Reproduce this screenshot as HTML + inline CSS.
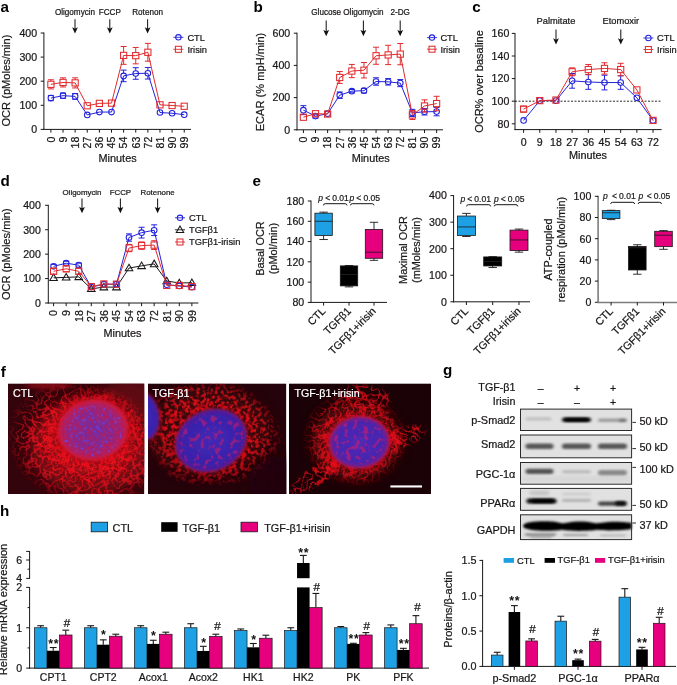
<!DOCTYPE html>
<html lang="en">
<head>
<meta charset="utf-8">
<title>Figure</title>
<style>html,body{margin:0;padding:0;background:#fff;}body{width:677px;height:685px;overflow:hidden;font-family:"Liberation Sans",sans-serif;}svg{display:block;}</style>
</head>
<body>
<svg width="677" height="685" viewBox="0 0 677 685" font-family="'Liberation Sans', sans-serif">
<defs>
<radialGradient id="maskA"><stop offset="0" stop-color="#fff" stop-opacity="1"/><stop offset="0.55" stop-color="#fff" stop-opacity="1"/><stop offset="0.8" stop-color="#fff" stop-opacity="0.7"/><stop offset="1" stop-color="#fff" stop-opacity="0"/></radialGradient>
<radialGradient id="maskB"><stop offset="0" stop-color="#fff" stop-opacity="1"/><stop offset="0.7" stop-color="#fff" stop-opacity="1"/><stop offset="1" stop-color="#fff" stop-opacity="0"/></radialGradient>
<radialGradient id="nucA"><stop offset="0" stop-color="#702ca4"/><stop offset="0.6" stop-color="#862890"/><stop offset="0.88" stop-color="#b41e5c"/><stop offset="1" stop-color="#d41832"/></radialGradient>
<radialGradient id="nucB"><stop offset="0" stop-color="#4429b4"/><stop offset="0.75" stop-color="#3822ac"/><stop offset="0.93" stop-color="#4c1c9a"/><stop offset="1" stop-color="#861860"/></radialGradient>
<radialGradient id="nucC"><stop offset="0" stop-color="#522ab4"/><stop offset="0.75" stop-color="#4425b0"/><stop offset="0.92" stop-color="#6a1e94"/><stop offset="1" stop-color="#b81a48"/></radialGradient>
<filter id="filA" x="0" y="0" width="1" height="1" color-interpolation-filters="sRGB"><feTurbulence type="turbulence" baseFrequency="0.16" numOctaves="1" seed="11" result="n"/><feColorMatrix in="n" type="matrix" values="0 0 0 0 0.94  0 0 0 0 0.07  0 0 0 0 0.12  -15 0 0 0 1.7" result="c"/><feComposite in="c" in2="SourceGraphic" operator="in"/></filter>
<filter id="filA2" x="0" y="0" width="1" height="1" color-interpolation-filters="sRGB"><feTurbulence type="turbulence" baseFrequency="0.24" numOctaves="1" seed="41" result="n"/><feColorMatrix in="n" type="matrix" values="0 0 0 0 0.92  0 0 0 0 0.06  0 0 0 0 0.1  0 -12 0 0 1.5" result="c"/><feComposite in="c" in2="SourceGraphic" operator="in"/></filter>
<filter id="filB" x="0" y="0" width="1" height="1" color-interpolation-filters="sRGB"><feTurbulence type="fractalNoise" baseFrequency="0.28" numOctaves="2" seed="5" result="n"/><feColorMatrix in="n" type="matrix" values="0 0 0 0 0.93  0 0 0 0 0.06  0 0 0 0 0.1  11 0 0 0 -5.5" result="c"/><feComposite in="c" in2="SourceGraphic" operator="in"/></filter>
<filter id="filB2" x="0" y="0" width="1" height="1" color-interpolation-filters="sRGB"><feTurbulence type="fractalNoise" baseFrequency="0.22" numOctaves="2" seed="77" result="n"/><feColorMatrix in="n" type="matrix" values="0 0 0 0 0.85  0 0 0 0 0.05  0 0 0 0 0.09  0 11 0 0 -5.8" result="c"/><feComposite in="c" in2="SourceGraphic" operator="in"/></filter>
<filter id="filC" x="0" y="0" width="1" height="1" color-interpolation-filters="sRGB"><feTurbulence type="turbulence" baseFrequency="0.17" numOctaves="1" seed="23" result="n"/><feColorMatrix in="n" type="matrix" values="0 0 0 0 0.93  0 0 0 0 0.06  0 0 0 0 0.1  -14 0 0 0 1.7" result="c"/><feComposite in="c" in2="SourceGraphic" operator="in"/></filter>
<filter id="filC2" x="0" y="0" width="1" height="1" color-interpolation-filters="sRGB"><feTurbulence type="turbulence" baseFrequency="0.27" numOctaves="1" seed="57" result="n"/><feColorMatrix in="n" type="matrix" values="0 0 0 0 0.9  0 0 0 0 0.05  0 0 0 0 0.1  0 -13 0 0 1.5" result="c"/><feComposite in="c" in2="SourceGraphic" operator="in"/></filter>
<filter id="spkB" x="0" y="0" width="1" height="1" color-interpolation-filters="sRGB"><feTurbulence type="fractalNoise" baseFrequency="0.33" numOctaves="2" seed="3" result="n"/><feColorMatrix in="n" type="matrix" values="0 0 0 0 0.36  0 0 0 0 0.3  0 0 0 0 1.0  9 0 0 0 -5.4" result="c"/><feComposite in="c" in2="SourceGraphic" operator="in"/></filter>
<filter id="spkR" x="0" y="0" width="1" height="1" color-interpolation-filters="sRGB"><feTurbulence type="fractalNoise" baseFrequency="0.2" numOctaves="2" seed="19" result="n"/><feColorMatrix in="n" type="matrix" values="0 0 0 0 0.85  0 0 0 0 0.1  0 0 0 0 0.4  0 9 0 0 -5.0" result="c"/><feComposite in="c" in2="SourceGraphic" operator="in"/></filter>
<filter id="b1" x="-0.2" y="-0.2" width="1.4" height="1.4"><feGaussianBlur stdDeviation="0.9"/></filter>
<filter id="b2" x="-0.3" y="-0.3" width="1.6" height="1.6"><feGaussianBlur stdDeviation="2.2"/></filter>
<filter id="b4" x="-0.4" y="-0.4" width="1.8" height="1.8"><feGaussianBlur stdDeviation="4"/></filter>
<filter id="b5" x="-0.5" y="-0.5" width="2" height="2"><feGaussianBlur stdDeviation="7"/></filter>
<filter id="bb" x="-0.2" y="-0.8" width="1.4" height="2.6"><feGaussianBlur stdDeviation="1.5 1.0"/></filter>
<filter id="bf" x="-0.2" y="-0.8" width="1.4" height="2.6"><feGaussianBlur stdDeviation="1.6 1.1"/></filter>
<clipPath id="cf0"><rect x="8" y="383.4" width="136.4" height="110.6"/></clipPath>
<clipPath id="cf1"><rect x="148" y="383.4" width="138.4" height="110.6"/></clipPath>
<clipPath id="cf2"><rect x="289" y="383.4" width="142" height="110.6"/></clipPath>
</defs>
<rect x="0" y="0" width="677" height="685" fill="#fff"/>
<text x="0.4" y="11.6" font-size="15.2" font-weight="bold" fill="#000">a</text>
<line x1="43.9" y1="32.5" x2="43.9" y2="129.9" stroke="#1a1718" stroke-width="1"/>
<line x1="40.7" y1="129.4" x2="43.9" y2="129.4" stroke="#1a1718" stroke-width="1"/>
<text x="37.1" y="133.22" font-size="10.6" text-anchor="end" fill="#1a1718" stroke="#1a1718" stroke-width="0.22">0</text>
<line x1="40.7" y1="105.3" x2="43.9" y2="105.3" stroke="#1a1718" stroke-width="1"/>
<text x="37.1" y="109.12" font-size="10.6" text-anchor="end" fill="#1a1718" stroke="#1a1718" stroke-width="0.22">100</text>
<line x1="40.7" y1="81.2" x2="43.9" y2="81.2" stroke="#1a1718" stroke-width="1"/>
<text x="37.1" y="85.02" font-size="10.6" text-anchor="end" fill="#1a1718" stroke="#1a1718" stroke-width="0.22">200</text>
<line x1="40.7" y1="57.1" x2="43.9" y2="57.1" stroke="#1a1718" stroke-width="1"/>
<text x="37.1" y="60.92" font-size="10.6" text-anchor="end" fill="#1a1718" stroke="#1a1718" stroke-width="0.22">300</text>
<line x1="40.7" y1="33" x2="43.9" y2="33" stroke="#1a1718" stroke-width="1"/>
<text x="37.1" y="36.82" font-size="10.6" text-anchor="end" fill="#1a1718" stroke="#1a1718" stroke-width="0.22">400</text>
<line x1="43.4" y1="129.4" x2="191" y2="129.4" stroke="#1a1718" stroke-width="1"/>
<line x1="50.9" y1="129.4" x2="50.9" y2="132.6" stroke="#1a1718" stroke-width="1"/>
<text x="54.72" y="136.6" font-size="10.6" text-anchor="end" transform="rotate(-90 54.72 136.6)" fill="#1a1718" stroke="#1a1718" stroke-width="0.22">0</text>
<line x1="63.02" y1="129.4" x2="63.02" y2="132.6" stroke="#1a1718" stroke-width="1"/>
<text x="66.84" y="136.6" font-size="10.6" text-anchor="end" transform="rotate(-90 66.84 136.6)" fill="#1a1718" stroke="#1a1718" stroke-width="0.22">9</text>
<line x1="75.14" y1="129.4" x2="75.14" y2="132.6" stroke="#1a1718" stroke-width="1"/>
<text x="78.96" y="136.6" font-size="10.6" text-anchor="end" transform="rotate(-90 78.96 136.6)" fill="#1a1718" stroke="#1a1718" stroke-width="0.22">18</text>
<line x1="87.26" y1="129.4" x2="87.26" y2="132.6" stroke="#1a1718" stroke-width="1"/>
<text x="91.08" y="136.6" font-size="10.6" text-anchor="end" transform="rotate(-90 91.08 136.6)" fill="#1a1718" stroke="#1a1718" stroke-width="0.22">27</text>
<line x1="99.38" y1="129.4" x2="99.38" y2="132.6" stroke="#1a1718" stroke-width="1"/>
<text x="103.2" y="136.6" font-size="10.6" text-anchor="end" transform="rotate(-90 103.2 136.6)" fill="#1a1718" stroke="#1a1718" stroke-width="0.22">36</text>
<line x1="111.5" y1="129.4" x2="111.5" y2="132.6" stroke="#1a1718" stroke-width="1"/>
<text x="115.32" y="136.6" font-size="10.6" text-anchor="end" transform="rotate(-90 115.32 136.6)" fill="#1a1718" stroke="#1a1718" stroke-width="0.22">45</text>
<line x1="123.62" y1="129.4" x2="123.62" y2="132.6" stroke="#1a1718" stroke-width="1"/>
<text x="127.44" y="136.6" font-size="10.6" text-anchor="end" transform="rotate(-90 127.44 136.6)" fill="#1a1718" stroke="#1a1718" stroke-width="0.22">54</text>
<line x1="135.74" y1="129.4" x2="135.74" y2="132.6" stroke="#1a1718" stroke-width="1"/>
<text x="139.56" y="136.6" font-size="10.6" text-anchor="end" transform="rotate(-90 139.56 136.6)" fill="#1a1718" stroke="#1a1718" stroke-width="0.22">63</text>
<line x1="147.86" y1="129.4" x2="147.86" y2="132.6" stroke="#1a1718" stroke-width="1"/>
<text x="151.68" y="136.6" font-size="10.6" text-anchor="end" transform="rotate(-90 151.68 136.6)" fill="#1a1718" stroke="#1a1718" stroke-width="0.22">72</text>
<line x1="159.98" y1="129.4" x2="159.98" y2="132.6" stroke="#1a1718" stroke-width="1"/>
<text x="163.8" y="136.6" font-size="10.6" text-anchor="end" transform="rotate(-90 163.8 136.6)" fill="#1a1718" stroke="#1a1718" stroke-width="0.22">81</text>
<line x1="172.1" y1="129.4" x2="172.1" y2="132.6" stroke="#1a1718" stroke-width="1"/>
<text x="175.92" y="136.6" font-size="10.6" text-anchor="end" transform="rotate(-90 175.92 136.6)" fill="#1a1718" stroke="#1a1718" stroke-width="0.22">90</text>
<line x1="184.22" y1="129.4" x2="184.22" y2="132.6" stroke="#1a1718" stroke-width="1"/>
<text x="188.04" y="136.6" font-size="10.6" text-anchor="end" transform="rotate(-90 188.04 136.6)" fill="#1a1718" stroke="#1a1718" stroke-width="0.22">99</text>
<text x="9.7" y="80.6" font-size="11.1" text-anchor="middle" transform="rotate(-90 9.7 80.6)" fill="#1a1718" stroke="#1a1718" stroke-width="0.22">OCR (pMoles/min)</text>
<text x="117.6" y="161.8" font-size="10.9" text-anchor="middle" fill="#1a1718" stroke="#1a1718" stroke-width="0.22">Minutes</text>
<text x="75" y="15.2" font-size="8.15" text-anchor="middle" fill="#1a1718" stroke="#1a1718" stroke-width="0.22">Oligomycin</text>
<line x1="75" y1="19.2" x2="75" y2="30.1" stroke="#1a1718" stroke-width="1.05"/>
<path d="M75 33.6 L72.1 27.3 L75 28.7 L77.9 27.3 Z" fill="#111"/>
<text x="109.8" y="15.2" font-size="8.15" text-anchor="middle" fill="#1a1718" stroke="#1a1718" stroke-width="0.22">FCCP</text>
<line x1="109.8" y1="19.2" x2="109.8" y2="30.1" stroke="#1a1718" stroke-width="1.05"/>
<path d="M109.8 33.6 L106.9 27.3 L109.8 28.7 L112.7 27.3 Z" fill="#111"/>
<text x="147.6" y="15.2" font-size="8.15" text-anchor="middle" fill="#1a1718" stroke="#1a1718" stroke-width="0.22">Rotenon</text>
<line x1="147.6" y1="19.2" x2="147.6" y2="30.1" stroke="#1a1718" stroke-width="1.05"/>
<path d="M147.6 33.6 L144.7 27.3 L147.6 28.7 L150.5 27.3 Z" fill="#111"/>
<line x1="47.9" y1="95.42" x2="53.9" y2="95.42" stroke="#2222dc" stroke-width="1"/>
<line x1="47.9" y1="100.72" x2="53.9" y2="100.72" stroke="#2222dc" stroke-width="1"/>
<line x1="60.02" y1="93.01" x2="66.02" y2="93.01" stroke="#2222dc" stroke-width="1"/>
<line x1="60.02" y1="98.31" x2="66.02" y2="98.31" stroke="#2222dc" stroke-width="1"/>
<line x1="75.14" y1="93.49" x2="75.14" y2="93.58" stroke="#2222dc" stroke-width="1"/>
<line x1="75.14" y1="99.18" x2="75.14" y2="99.28" stroke="#2222dc" stroke-width="1"/>
<line x1="72.14" y1="93.49" x2="78.14" y2="93.49" stroke="#2222dc" stroke-width="1"/>
<line x1="72.14" y1="99.28" x2="78.14" y2="99.28" stroke="#2222dc" stroke-width="1"/>
<line x1="123.62" y1="70.11" x2="123.62" y2="73.1" stroke="#2222dc" stroke-width="1"/>
<line x1="123.62" y1="78.7" x2="123.62" y2="81.68" stroke="#2222dc" stroke-width="1"/>
<line x1="120.62" y1="70.11" x2="126.62" y2="70.11" stroke="#2222dc" stroke-width="1"/>
<line x1="120.62" y1="81.68" x2="126.62" y2="81.68" stroke="#2222dc" stroke-width="1"/>
<line x1="135.74" y1="67.7" x2="135.74" y2="70.69" stroke="#2222dc" stroke-width="1"/>
<line x1="135.74" y1="76.29" x2="135.74" y2="79.27" stroke="#2222dc" stroke-width="1"/>
<line x1="132.74" y1="67.7" x2="138.74" y2="67.7" stroke="#2222dc" stroke-width="1"/>
<line x1="132.74" y1="79.27" x2="138.74" y2="79.27" stroke="#2222dc" stroke-width="1"/>
<line x1="147.86" y1="67.46" x2="147.86" y2="70.45" stroke="#2222dc" stroke-width="1"/>
<line x1="147.86" y1="76.05" x2="147.86" y2="79.03" stroke="#2222dc" stroke-width="1"/>
<line x1="144.86" y1="67.46" x2="150.86" y2="67.46" stroke="#2222dc" stroke-width="1"/>
<line x1="144.86" y1="79.03" x2="150.86" y2="79.03" stroke="#2222dc" stroke-width="1"/>
<circle cx="50.9" cy="98.07" r="2.8" fill="none" stroke="#2222dc" stroke-width="1.05"/>
<circle cx="63.02" cy="95.66" r="2.8" fill="none" stroke="#2222dc" stroke-width="1.05"/>
<circle cx="75.14" cy="96.38" r="2.8" fill="none" stroke="#2222dc" stroke-width="1.05"/>
<circle cx="87.26" cy="114.94" r="2.8" fill="none" stroke="#2222dc" stroke-width="1.05"/>
<circle cx="99.38" cy="112.05" r="2.8" fill="none" stroke="#2222dc" stroke-width="1.05"/>
<circle cx="111.5" cy="112.05" r="2.8" fill="none" stroke="#2222dc" stroke-width="1.05"/>
<circle cx="123.62" cy="75.9" r="2.8" fill="none" stroke="#2222dc" stroke-width="1.05"/>
<circle cx="135.74" cy="73.49" r="2.8" fill="none" stroke="#2222dc" stroke-width="1.05"/>
<circle cx="147.86" cy="73.25" r="2.8" fill="none" stroke="#2222dc" stroke-width="1.05"/>
<circle cx="159.98" cy="112.53" r="2.8" fill="none" stroke="#2222dc" stroke-width="1.05"/>
<circle cx="172.1" cy="113.25" r="2.8" fill="none" stroke="#2222dc" stroke-width="1.05"/>
<circle cx="184.22" cy="114.7" r="2.8" fill="none" stroke="#2222dc" stroke-width="1.05"/>
<polyline points="50.9,98.07 63.02,95.66 75.14,96.38 87.26,114.94 99.38,112.05 111.5,112.05 123.62,75.9 135.74,73.49 147.86,73.25 159.98,112.53 172.1,113.25 184.22,114.7" fill="none" stroke="#2222dc" stroke-width="1"/>
<line x1="50.9" y1="79.75" x2="50.9" y2="81.23" stroke="#e22b2e" stroke-width="1"/>
<line x1="50.9" y1="87.43" x2="50.9" y2="88.91" stroke="#e22b2e" stroke-width="1"/>
<line x1="47.9" y1="79.75" x2="53.9" y2="79.75" stroke="#e22b2e" stroke-width="1"/>
<line x1="47.9" y1="88.91" x2="53.9" y2="88.91" stroke="#e22b2e" stroke-width="1"/>
<line x1="63.02" y1="77.83" x2="63.02" y2="79.31" stroke="#e22b2e" stroke-width="1"/>
<line x1="63.02" y1="85.5" x2="63.02" y2="86.98" stroke="#e22b2e" stroke-width="1"/>
<line x1="60.02" y1="77.83" x2="66.02" y2="77.83" stroke="#e22b2e" stroke-width="1"/>
<line x1="60.02" y1="86.98" x2="66.02" y2="86.98" stroke="#e22b2e" stroke-width="1"/>
<line x1="75.14" y1="77.83" x2="75.14" y2="79.79" stroke="#e22b2e" stroke-width="1"/>
<line x1="75.14" y1="85.99" x2="75.14" y2="87.95" stroke="#e22b2e" stroke-width="1"/>
<line x1="72.14" y1="77.83" x2="78.14" y2="77.83" stroke="#e22b2e" stroke-width="1"/>
<line x1="72.14" y1="87.95" x2="78.14" y2="87.95" stroke="#e22b2e" stroke-width="1"/>
<line x1="123.62" y1="46.5" x2="123.62" y2="52.31" stroke="#e22b2e" stroke-width="1"/>
<line x1="123.62" y1="58.51" x2="123.62" y2="64.33" stroke="#e22b2e" stroke-width="1"/>
<line x1="120.62" y1="46.5" x2="126.62" y2="46.5" stroke="#e22b2e" stroke-width="1"/>
<line x1="120.62" y1="64.33" x2="126.62" y2="64.33" stroke="#e22b2e" stroke-width="1"/>
<line x1="135.74" y1="47.46" x2="135.74" y2="52.55" stroke="#e22b2e" stroke-width="1"/>
<line x1="135.74" y1="58.75" x2="135.74" y2="63.85" stroke="#e22b2e" stroke-width="1"/>
<line x1="132.74" y1="47.46" x2="138.74" y2="47.46" stroke="#e22b2e" stroke-width="1"/>
<line x1="132.74" y1="63.85" x2="138.74" y2="63.85" stroke="#e22b2e" stroke-width="1"/>
<line x1="147.86" y1="43.36" x2="147.86" y2="49.18" stroke="#e22b2e" stroke-width="1"/>
<line x1="147.86" y1="55.38" x2="147.86" y2="61.2" stroke="#e22b2e" stroke-width="1"/>
<line x1="144.86" y1="43.36" x2="150.86" y2="43.36" stroke="#e22b2e" stroke-width="1"/>
<line x1="144.86" y1="61.2" x2="150.86" y2="61.2" stroke="#e22b2e" stroke-width="1"/>
<rect x="47.8" y="81.23" width="6.2" height="6.2" fill="none" stroke="#e22b2e" stroke-width="1.05"/>
<rect x="59.92" y="79.31" width="6.2" height="6.2" fill="none" stroke="#e22b2e" stroke-width="1.05"/>
<rect x="72.04" y="79.79" width="6.2" height="6.2" fill="none" stroke="#e22b2e" stroke-width="1.05"/>
<rect x="84.16" y="102.68" width="6.2" height="6.2" fill="none" stroke="#e22b2e" stroke-width="1.05"/>
<rect x="96.28" y="100.27" width="6.2" height="6.2" fill="none" stroke="#e22b2e" stroke-width="1.05"/>
<rect x="108.4" y="100.03" width="6.2" height="6.2" fill="none" stroke="#e22b2e" stroke-width="1.05"/>
<rect x="120.52" y="52.31" width="6.2" height="6.2" fill="none" stroke="#e22b2e" stroke-width="1.05"/>
<rect x="132.64" y="52.55" width="6.2" height="6.2" fill="none" stroke="#e22b2e" stroke-width="1.05"/>
<rect x="144.76" y="49.18" width="6.2" height="6.2" fill="none" stroke="#e22b2e" stroke-width="1.05"/>
<rect x="156.88" y="101.72" width="6.2" height="6.2" fill="none" stroke="#e22b2e" stroke-width="1.05"/>
<rect x="169" y="102.44" width="6.2" height="6.2" fill="none" stroke="#e22b2e" stroke-width="1.05"/>
<rect x="181.12" y="103.16" width="6.2" height="6.2" fill="none" stroke="#e22b2e" stroke-width="1.05"/>
<polyline points="50.9,84.33 63.02,82.41 75.14,82.89 87.26,105.78 99.38,103.37 111.5,103.13 123.62,55.41 135.74,55.65 147.86,52.28 159.98,104.82 172.1,105.54 184.22,106.26" fill="none" stroke="#e22b2e" stroke-width="1"/>
<line x1="173.4" y1="37.3" x2="183.4" y2="37.3" stroke="#2222dc" stroke-width="0.9"/>
<circle cx="178.4" cy="37.3" r="2.7" fill="none" stroke="#2222dc" stroke-width="1.05"/>
<text x="187.4" y="40.65" font-size="9.3" fill="#1a1718" stroke="#1a1718" stroke-width="0.22">CTL</text>
<line x1="173.4" y1="49.3" x2="183.4" y2="49.3" stroke="#e22b2e" stroke-width="0.9"/>
<rect x="175.4" y="46.3" width="6" height="6" fill="none" stroke="#e22b2e" stroke-width="1.05"/>
<text x="187.4" y="52.65" font-size="9.3" fill="#1a1718" stroke="#1a1718" stroke-width="0.22">Irisin</text>
<text x="253.4" y="11.6" font-size="15.2" font-weight="bold" fill="#000">b</text>
<line x1="297" y1="32.7" x2="297" y2="130.3" stroke="#1a1718" stroke-width="1"/>
<line x1="293.8" y1="129.8" x2="297" y2="129.8" stroke="#1a1718" stroke-width="1"/>
<text x="290.2" y="133.62" font-size="10.6" text-anchor="end" fill="#1a1718" stroke="#1a1718" stroke-width="0.22">0</text>
<line x1="293.8" y1="97.6" x2="297" y2="97.6" stroke="#1a1718" stroke-width="1"/>
<text x="290.2" y="101.42" font-size="10.6" text-anchor="end" fill="#1a1718" stroke="#1a1718" stroke-width="0.22">200</text>
<line x1="293.8" y1="65.4" x2="297" y2="65.4" stroke="#1a1718" stroke-width="1"/>
<text x="290.2" y="69.22" font-size="10.6" text-anchor="end" fill="#1a1718" stroke="#1a1718" stroke-width="0.22">400</text>
<line x1="293.8" y1="33.2" x2="297" y2="33.2" stroke="#1a1718" stroke-width="1"/>
<text x="290.2" y="37.02" font-size="10.6" text-anchor="end" fill="#1a1718" stroke="#1a1718" stroke-width="0.22">600</text>
<line x1="296.5" y1="129.8" x2="443" y2="129.8" stroke="#1a1718" stroke-width="1"/>
<line x1="303.4" y1="129.8" x2="303.4" y2="133" stroke="#1a1718" stroke-width="1"/>
<text x="307.22" y="136.6" font-size="10.6" text-anchor="end" transform="rotate(-90 307.22 136.6)" fill="#1a1718" stroke="#1a1718" stroke-width="0.22">0</text>
<line x1="315.51" y1="129.8" x2="315.51" y2="133" stroke="#1a1718" stroke-width="1"/>
<text x="319.33" y="136.6" font-size="10.6" text-anchor="end" transform="rotate(-90 319.33 136.6)" fill="#1a1718" stroke="#1a1718" stroke-width="0.22">9</text>
<line x1="327.62" y1="129.8" x2="327.62" y2="133" stroke="#1a1718" stroke-width="1"/>
<text x="331.44" y="136.6" font-size="10.6" text-anchor="end" transform="rotate(-90 331.44 136.6)" fill="#1a1718" stroke="#1a1718" stroke-width="0.22">18</text>
<line x1="339.73" y1="129.8" x2="339.73" y2="133" stroke="#1a1718" stroke-width="1"/>
<text x="343.55" y="136.6" font-size="10.6" text-anchor="end" transform="rotate(-90 343.55 136.6)" fill="#1a1718" stroke="#1a1718" stroke-width="0.22">27</text>
<line x1="351.84" y1="129.8" x2="351.84" y2="133" stroke="#1a1718" stroke-width="1"/>
<text x="355.66" y="136.6" font-size="10.6" text-anchor="end" transform="rotate(-90 355.66 136.6)" fill="#1a1718" stroke="#1a1718" stroke-width="0.22">36</text>
<line x1="363.95" y1="129.8" x2="363.95" y2="133" stroke="#1a1718" stroke-width="1"/>
<text x="367.77" y="136.6" font-size="10.6" text-anchor="end" transform="rotate(-90 367.77 136.6)" fill="#1a1718" stroke="#1a1718" stroke-width="0.22">45</text>
<line x1="376.06" y1="129.8" x2="376.06" y2="133" stroke="#1a1718" stroke-width="1"/>
<text x="379.88" y="136.6" font-size="10.6" text-anchor="end" transform="rotate(-90 379.88 136.6)" fill="#1a1718" stroke="#1a1718" stroke-width="0.22">54</text>
<line x1="388.17" y1="129.8" x2="388.17" y2="133" stroke="#1a1718" stroke-width="1"/>
<text x="391.99" y="136.6" font-size="10.6" text-anchor="end" transform="rotate(-90 391.99 136.6)" fill="#1a1718" stroke="#1a1718" stroke-width="0.22">63</text>
<line x1="400.28" y1="129.8" x2="400.28" y2="133" stroke="#1a1718" stroke-width="1"/>
<text x="404.1" y="136.6" font-size="10.6" text-anchor="end" transform="rotate(-90 404.1 136.6)" fill="#1a1718" stroke="#1a1718" stroke-width="0.22">72</text>
<line x1="412.39" y1="129.8" x2="412.39" y2="133" stroke="#1a1718" stroke-width="1"/>
<text x="416.21" y="136.6" font-size="10.6" text-anchor="end" transform="rotate(-90 416.21 136.6)" fill="#1a1718" stroke="#1a1718" stroke-width="0.22">81</text>
<line x1="424.5" y1="129.8" x2="424.5" y2="133" stroke="#1a1718" stroke-width="1"/>
<text x="428.32" y="136.6" font-size="10.6" text-anchor="end" transform="rotate(-90 428.32 136.6)" fill="#1a1718" stroke="#1a1718" stroke-width="0.22">90</text>
<line x1="436.61" y1="129.8" x2="436.61" y2="133" stroke="#1a1718" stroke-width="1"/>
<text x="440.43" y="136.6" font-size="10.6" text-anchor="end" transform="rotate(-90 440.43 136.6)" fill="#1a1718" stroke="#1a1718" stroke-width="0.22">99</text>
<text x="263.8" y="82" font-size="11.1" text-anchor="middle" transform="rotate(-90 263.8 82)" fill="#1a1718" stroke="#1a1718" stroke-width="0.22">ECAR (% mpH/min)</text>
<text x="370.7" y="161.8" font-size="10.9" text-anchor="middle" fill="#1a1718" stroke="#1a1718" stroke-width="0.22">Minutes</text>
<text x="326.2" y="15.2" font-size="8.15" text-anchor="middle" fill="#1a1718" stroke="#1a1718" stroke-width="0.22">Glucose</text>
<line x1="326.2" y1="20.5" x2="326.2" y2="32.7" stroke="#1a1718" stroke-width="1.05"/>
<path d="M326.2 36.2 L323.3 29.9 L326.2 31.3 L329.1 29.9 Z" fill="#111"/>
<text x="363.4" y="15.2" font-size="8.15" text-anchor="middle" fill="#1a1718" stroke="#1a1718" stroke-width="0.22">Oligomycin</text>
<line x1="363.4" y1="20.5" x2="363.4" y2="32.7" stroke="#1a1718" stroke-width="1.05"/>
<path d="M363.4 36.2 L360.5 29.9 L363.4 31.3 L366.3 29.9 Z" fill="#111"/>
<text x="400.2" y="15.2" font-size="8.15" text-anchor="middle" fill="#1a1718" stroke="#1a1718" stroke-width="0.22">2-DG</text>
<line x1="400.2" y1="20.5" x2="400.2" y2="32.7" stroke="#1a1718" stroke-width="1.05"/>
<path d="M400.2 36.2 L397.3 29.9 L400.2 31.3 L403.1 29.9 Z" fill="#111"/>
<line x1="303.4" y1="105.65" x2="303.4" y2="107.36" stroke="#2222dc" stroke-width="1"/>
<line x1="303.4" y1="112.96" x2="303.4" y2="114.67" stroke="#2222dc" stroke-width="1"/>
<line x1="300.4" y1="105.65" x2="306.4" y2="105.65" stroke="#2222dc" stroke-width="1"/>
<line x1="300.4" y1="114.67" x2="306.4" y2="114.67" stroke="#2222dc" stroke-width="1"/>
<line x1="312.51" y1="114.18" x2="318.51" y2="114.18" stroke="#2222dc" stroke-width="1"/>
<line x1="312.51" y1="118.05" x2="318.51" y2="118.05" stroke="#2222dc" stroke-width="1"/>
<line x1="339.73" y1="91.97" x2="339.73" y2="92.39" stroke="#2222dc" stroke-width="1"/>
<line x1="339.73" y1="97.98" x2="339.73" y2="98.41" stroke="#2222dc" stroke-width="1"/>
<line x1="336.73" y1="91.97" x2="342.73" y2="91.97" stroke="#2222dc" stroke-width="1"/>
<line x1="336.73" y1="98.41" x2="342.73" y2="98.41" stroke="#2222dc" stroke-width="1"/>
<line x1="348.84" y1="89.55" x2="354.84" y2="89.55" stroke="#2222dc" stroke-width="1"/>
<line x1="348.84" y1="92.77" x2="354.84" y2="92.77" stroke="#2222dc" stroke-width="1"/>
<line x1="360.95" y1="88.42" x2="366.95" y2="88.42" stroke="#2222dc" stroke-width="1"/>
<line x1="360.95" y1="92.93" x2="366.95" y2="92.93" stroke="#2222dc" stroke-width="1"/>
<line x1="376.06" y1="77.8" x2="376.06" y2="78.7" stroke="#2222dc" stroke-width="1"/>
<line x1="376.06" y1="84.3" x2="376.06" y2="85.2" stroke="#2222dc" stroke-width="1"/>
<line x1="373.06" y1="77.8" x2="379.06" y2="77.8" stroke="#2222dc" stroke-width="1"/>
<line x1="373.06" y1="85.2" x2="379.06" y2="85.2" stroke="#2222dc" stroke-width="1"/>
<line x1="388.17" y1="78.6" x2="388.17" y2="79.02" stroke="#2222dc" stroke-width="1"/>
<line x1="388.17" y1="84.62" x2="388.17" y2="85.04" stroke="#2222dc" stroke-width="1"/>
<line x1="385.17" y1="78.6" x2="391.17" y2="78.6" stroke="#2222dc" stroke-width="1"/>
<line x1="385.17" y1="85.04" x2="391.17" y2="85.04" stroke="#2222dc" stroke-width="1"/>
<line x1="400.28" y1="79.57" x2="400.28" y2="80.31" stroke="#2222dc" stroke-width="1"/>
<line x1="400.28" y1="85.91" x2="400.28" y2="86.65" stroke="#2222dc" stroke-width="1"/>
<line x1="397.28" y1="79.57" x2="403.28" y2="79.57" stroke="#2222dc" stroke-width="1"/>
<line x1="397.28" y1="86.65" x2="403.28" y2="86.65" stroke="#2222dc" stroke-width="1"/>
<line x1="412.39" y1="109.35" x2="412.39" y2="110.1" stroke="#2222dc" stroke-width="1"/>
<line x1="412.39" y1="115.7" x2="412.39" y2="116.44" stroke="#2222dc" stroke-width="1"/>
<line x1="409.39" y1="109.35" x2="415.39" y2="109.35" stroke="#2222dc" stroke-width="1"/>
<line x1="409.39" y1="116.44" x2="415.39" y2="116.44" stroke="#2222dc" stroke-width="1"/>
<line x1="424.5" y1="108.55" x2="424.5" y2="108.97" stroke="#2222dc" stroke-width="1"/>
<line x1="424.5" y1="114.57" x2="424.5" y2="114.99" stroke="#2222dc" stroke-width="1"/>
<line x1="421.5" y1="108.55" x2="427.5" y2="108.55" stroke="#2222dc" stroke-width="1"/>
<line x1="421.5" y1="114.99" x2="427.5" y2="114.99" stroke="#2222dc" stroke-width="1"/>
<line x1="436.61" y1="107.42" x2="436.61" y2="108.81" stroke="#2222dc" stroke-width="1"/>
<line x1="436.61" y1="114.41" x2="436.61" y2="115.79" stroke="#2222dc" stroke-width="1"/>
<line x1="433.61" y1="107.42" x2="439.61" y2="107.42" stroke="#2222dc" stroke-width="1"/>
<line x1="433.61" y1="115.79" x2="439.61" y2="115.79" stroke="#2222dc" stroke-width="1"/>
<circle cx="303.4" cy="110.16" r="2.8" fill="none" stroke="#2222dc" stroke-width="1.05"/>
<circle cx="315.51" cy="116.12" r="2.8" fill="none" stroke="#2222dc" stroke-width="1.05"/>
<circle cx="327.62" cy="113.7" r="2.8" fill="none" stroke="#2222dc" stroke-width="1.05"/>
<circle cx="339.73" cy="95.19" r="2.8" fill="none" stroke="#2222dc" stroke-width="1.05"/>
<circle cx="351.84" cy="91.16" r="2.8" fill="none" stroke="#2222dc" stroke-width="1.05"/>
<circle cx="363.95" cy="90.68" r="2.8" fill="none" stroke="#2222dc" stroke-width="1.05"/>
<circle cx="376.06" cy="81.5" r="2.8" fill="none" stroke="#2222dc" stroke-width="1.05"/>
<circle cx="388.17" cy="81.82" r="2.8" fill="none" stroke="#2222dc" stroke-width="1.05"/>
<circle cx="400.28" cy="83.11" r="2.8" fill="none" stroke="#2222dc" stroke-width="1.05"/>
<circle cx="412.39" cy="112.9" r="2.8" fill="none" stroke="#2222dc" stroke-width="1.05"/>
<circle cx="424.5" cy="111.77" r="2.8" fill="none" stroke="#2222dc" stroke-width="1.05"/>
<circle cx="436.61" cy="111.61" r="2.8" fill="none" stroke="#2222dc" stroke-width="1.05"/>
<polyline points="303.4,110.16 315.51,116.12 327.62,113.7 339.73,95.19 351.84,91.16 363.95,90.68 376.06,81.5 388.17,81.82 400.28,83.11 412.39,112.9 424.5,111.77 436.61,111.61" fill="none" stroke="#2222dc" stroke-width="1"/>
<line x1="339.73" y1="71.52" x2="339.73" y2="74.38" stroke="#e22b2e" stroke-width="1"/>
<line x1="339.73" y1="80.58" x2="339.73" y2="83.43" stroke="#e22b2e" stroke-width="1"/>
<line x1="336.73" y1="71.52" x2="342.73" y2="71.52" stroke="#e22b2e" stroke-width="1"/>
<line x1="336.73" y1="83.43" x2="342.73" y2="83.43" stroke="#e22b2e" stroke-width="1"/>
<line x1="351.84" y1="64.43" x2="351.84" y2="67.94" stroke="#e22b2e" stroke-width="1"/>
<line x1="351.84" y1="74.14" x2="351.84" y2="77.64" stroke="#e22b2e" stroke-width="1"/>
<line x1="348.84" y1="64.43" x2="354.84" y2="64.43" stroke="#e22b2e" stroke-width="1"/>
<line x1="348.84" y1="77.64" x2="354.84" y2="77.64" stroke="#e22b2e" stroke-width="1"/>
<line x1="363.95" y1="62.5" x2="363.95" y2="67.13" stroke="#e22b2e" stroke-width="1"/>
<line x1="363.95" y1="73.33" x2="363.95" y2="77.96" stroke="#e22b2e" stroke-width="1"/>
<line x1="360.95" y1="62.5" x2="366.95" y2="62.5" stroke="#e22b2e" stroke-width="1"/>
<line x1="360.95" y1="77.96" x2="366.95" y2="77.96" stroke="#e22b2e" stroke-width="1"/>
<line x1="376.06" y1="47.21" x2="376.06" y2="52.64" stroke="#e22b2e" stroke-width="1"/>
<line x1="376.06" y1="58.84" x2="376.06" y2="64.27" stroke="#e22b2e" stroke-width="1"/>
<line x1="373.06" y1="47.21" x2="379.06" y2="47.21" stroke="#e22b2e" stroke-width="1"/>
<line x1="373.06" y1="64.27" x2="379.06" y2="64.27" stroke="#e22b2e" stroke-width="1"/>
<line x1="388.17" y1="45.28" x2="388.17" y2="51.84" stroke="#e22b2e" stroke-width="1"/>
<line x1="388.17" y1="58.04" x2="388.17" y2="64.6" stroke="#e22b2e" stroke-width="1"/>
<line x1="385.17" y1="45.28" x2="391.17" y2="45.28" stroke="#e22b2e" stroke-width="1"/>
<line x1="385.17" y1="64.6" x2="391.17" y2="64.6" stroke="#e22b2e" stroke-width="1"/>
<line x1="400.28" y1="43.5" x2="400.28" y2="51.03" stroke="#e22b2e" stroke-width="1"/>
<line x1="400.28" y1="57.23" x2="400.28" y2="64.76" stroke="#e22b2e" stroke-width="1"/>
<line x1="397.28" y1="43.5" x2="403.28" y2="43.5" stroke="#e22b2e" stroke-width="1"/>
<line x1="397.28" y1="64.76" x2="403.28" y2="64.76" stroke="#e22b2e" stroke-width="1"/>
<line x1="412.39" y1="110.48" x2="412.39" y2="111.89" stroke="#e22b2e" stroke-width="1"/>
<line x1="412.39" y1="118.09" x2="412.39" y2="119.5" stroke="#e22b2e" stroke-width="1"/>
<line x1="409.39" y1="110.48" x2="415.39" y2="110.48" stroke="#e22b2e" stroke-width="1"/>
<line x1="409.39" y1="119.5" x2="415.39" y2="119.5" stroke="#e22b2e" stroke-width="1"/>
<line x1="424.5" y1="99.85" x2="424.5" y2="102.87" stroke="#e22b2e" stroke-width="1"/>
<line x1="424.5" y1="109.07" x2="424.5" y2="112.09" stroke="#e22b2e" stroke-width="1"/>
<line x1="421.5" y1="99.85" x2="427.5" y2="99.85" stroke="#e22b2e" stroke-width="1"/>
<line x1="421.5" y1="112.09" x2="427.5" y2="112.09" stroke="#e22b2e" stroke-width="1"/>
<line x1="436.61" y1="96.31" x2="436.61" y2="100.46" stroke="#e22b2e" stroke-width="1"/>
<line x1="436.61" y1="106.66" x2="436.61" y2="110.8" stroke="#e22b2e" stroke-width="1"/>
<line x1="433.61" y1="96.31" x2="439.61" y2="96.31" stroke="#e22b2e" stroke-width="1"/>
<line x1="433.61" y1="110.8" x2="439.61" y2="110.8" stroke="#e22b2e" stroke-width="1"/>
<rect x="300.3" y="114.14" width="6.2" height="6.2" fill="none" stroke="#e22b2e" stroke-width="1.05"/>
<rect x="312.41" y="110.6" width="6.2" height="6.2" fill="none" stroke="#e22b2e" stroke-width="1.05"/>
<rect x="324.52" y="110.92" width="6.2" height="6.2" fill="none" stroke="#e22b2e" stroke-width="1.05"/>
<rect x="336.63" y="74.38" width="6.2" height="6.2" fill="none" stroke="#e22b2e" stroke-width="1.05"/>
<rect x="348.74" y="67.94" width="6.2" height="6.2" fill="none" stroke="#e22b2e" stroke-width="1.05"/>
<rect x="360.85" y="67.13" width="6.2" height="6.2" fill="none" stroke="#e22b2e" stroke-width="1.05"/>
<rect x="372.96" y="52.64" width="6.2" height="6.2" fill="none" stroke="#e22b2e" stroke-width="1.05"/>
<rect x="385.07" y="51.84" width="6.2" height="6.2" fill="none" stroke="#e22b2e" stroke-width="1.05"/>
<rect x="397.18" y="51.03" width="6.2" height="6.2" fill="none" stroke="#e22b2e" stroke-width="1.05"/>
<rect x="409.29" y="111.89" width="6.2" height="6.2" fill="none" stroke="#e22b2e" stroke-width="1.05"/>
<rect x="421.4" y="102.87" width="6.2" height="6.2" fill="none" stroke="#e22b2e" stroke-width="1.05"/>
<rect x="433.51" y="100.46" width="6.2" height="6.2" fill="none" stroke="#e22b2e" stroke-width="1.05"/>
<polyline points="303.4,117.24 315.51,113.7 327.62,114.02 339.73,77.48 351.84,71.04 363.95,70.23 376.06,55.74 388.17,54.94 400.28,54.13 412.39,114.99 424.5,105.97 436.61,103.56" fill="none" stroke="#e22b2e" stroke-width="1"/>
<line x1="427" y1="37.6" x2="437" y2="37.6" stroke="#2222dc" stroke-width="0.9"/>
<circle cx="432" cy="37.6" r="2.7" fill="none" stroke="#2222dc" stroke-width="1.05"/>
<text x="440.4" y="40.95" font-size="9.3" fill="#1a1718" stroke="#1a1718" stroke-width="0.22">CTL</text>
<line x1="427" y1="49.2" x2="437" y2="49.2" stroke="#e22b2e" stroke-width="0.9"/>
<rect x="429" y="46.2" width="6" height="6" fill="none" stroke="#e22b2e" stroke-width="1.05"/>
<text x="440.4" y="52.55" font-size="9.3" fill="#1a1718" stroke="#1a1718" stroke-width="0.22">Irisin</text>
<text x="472.3" y="11.6" font-size="15.2" font-weight="bold" fill="#000">c</text>
<line x1="515" y1="33" x2="515" y2="130.1" stroke="#1a1718" stroke-width="1"/>
<line x1="511.8" y1="123.8" x2="515" y2="123.8" stroke="#1a1718" stroke-width="1"/>
<text x="509.3" y="127.6" font-size="10.6" text-anchor="end" fill="#1a1718" stroke="#1a1718" stroke-width="0.22">80</text>
<line x1="511.8" y1="101.2" x2="515" y2="101.2" stroke="#1a1718" stroke-width="1"/>
<text x="509.3" y="105" font-size="10.6" text-anchor="end" fill="#1a1718" stroke="#1a1718" stroke-width="0.22">100</text>
<line x1="511.8" y1="78.6" x2="515" y2="78.6" stroke="#1a1718" stroke-width="1"/>
<text x="509.3" y="82.4" font-size="10.6" text-anchor="end" fill="#1a1718" stroke="#1a1718" stroke-width="0.22">120</text>
<line x1="511.8" y1="56" x2="515" y2="56" stroke="#1a1718" stroke-width="1"/>
<text x="509.3" y="59.8" font-size="10.6" text-anchor="end" fill="#1a1718" stroke="#1a1718" stroke-width="0.22">140</text>
<line x1="511.8" y1="33.4" x2="515" y2="33.4" stroke="#1a1718" stroke-width="1"/>
<text x="509.3" y="37.2" font-size="10.6" text-anchor="end" fill="#1a1718" stroke="#1a1718" stroke-width="0.22">160</text>
<line x1="514.5" y1="129.6" x2="661.6" y2="129.6" stroke="#1a1718" stroke-width="1"/>
<line x1="523.6" y1="129.6" x2="523.6" y2="132.8" stroke="#1a1718" stroke-width="1"/>
<text x="523.6" y="146.3" font-size="10.6" text-anchor="middle" fill="#1a1718" stroke="#1a1718" stroke-width="0.22">0</text>
<line x1="539.78" y1="129.6" x2="539.78" y2="132.8" stroke="#1a1718" stroke-width="1"/>
<text x="539.78" y="146.3" font-size="10.6" text-anchor="middle" fill="#1a1718" stroke="#1a1718" stroke-width="0.22">9</text>
<line x1="555.96" y1="129.6" x2="555.96" y2="132.8" stroke="#1a1718" stroke-width="1"/>
<text x="555.96" y="146.3" font-size="10.6" text-anchor="middle" fill="#1a1718" stroke="#1a1718" stroke-width="0.22">18</text>
<line x1="572.14" y1="129.6" x2="572.14" y2="132.8" stroke="#1a1718" stroke-width="1"/>
<text x="572.14" y="146.3" font-size="10.6" text-anchor="middle" fill="#1a1718" stroke="#1a1718" stroke-width="0.22">27</text>
<line x1="588.32" y1="129.6" x2="588.32" y2="132.8" stroke="#1a1718" stroke-width="1"/>
<text x="588.32" y="146.3" font-size="10.6" text-anchor="middle" fill="#1a1718" stroke="#1a1718" stroke-width="0.22">36</text>
<line x1="604.5" y1="129.6" x2="604.5" y2="132.8" stroke="#1a1718" stroke-width="1"/>
<text x="604.5" y="146.3" font-size="10.6" text-anchor="middle" fill="#1a1718" stroke="#1a1718" stroke-width="0.22">45</text>
<line x1="620.68" y1="129.6" x2="620.68" y2="132.8" stroke="#1a1718" stroke-width="1"/>
<text x="620.68" y="146.3" font-size="10.6" text-anchor="middle" fill="#1a1718" stroke="#1a1718" stroke-width="0.22">54</text>
<line x1="636.86" y1="129.6" x2="636.86" y2="132.8" stroke="#1a1718" stroke-width="1"/>
<text x="636.86" y="146.3" font-size="10.6" text-anchor="middle" fill="#1a1718" stroke="#1a1718" stroke-width="0.22">63</text>
<line x1="653.04" y1="129.6" x2="653.04" y2="132.8" stroke="#1a1718" stroke-width="1"/>
<text x="653.04" y="146.3" font-size="10.6" text-anchor="middle" fill="#1a1718" stroke="#1a1718" stroke-width="0.22">72</text>
<text x="482.6" y="81.5" font-size="11" text-anchor="middle" transform="rotate(-90 482.6 81.5)" fill="#1a1718" stroke="#1a1718" stroke-width="0.22">OCR% over basaline</text>
<text x="588" y="158.8" font-size="10.9" text-anchor="middle" fill="#1a1718" stroke="#1a1718" stroke-width="0.22">Minutes</text>
<line x1="515" y1="101.2" x2="662" y2="101.2" stroke="#111" stroke-width="0.9" stroke-dasharray="2 1.5"/>
<text x="556" y="24.2" font-size="9.3" text-anchor="middle" fill="#1a1718" stroke="#1a1718" stroke-width="0.22">Palmitate</text>
<line x1="556" y1="29.6" x2="556" y2="41.1" stroke="#1a1718" stroke-width="1.05"/>
<path d="M556 44.6 L553.1 38.3 L556 39.7 L558.9 38.3 Z" fill="#111"/>
<text x="620.8" y="24.2" font-size="9.3" text-anchor="middle" fill="#1a1718" stroke="#1a1718" stroke-width="0.22">Etomoxir</text>
<line x1="620.8" y1="29.6" x2="620.8" y2="41.1" stroke="#1a1718" stroke-width="1.05"/>
<path d="M620.8 44.6 L617.9 38.3 L620.8 39.7 L623.7 38.3 Z" fill="#111"/>
<line x1="572.14" y1="73.51" x2="572.14" y2="78.06" stroke="#2222dc" stroke-width="1"/>
<line x1="572.14" y1="83.66" x2="572.14" y2="88.2" stroke="#2222dc" stroke-width="1"/>
<line x1="569.14" y1="73.51" x2="575.14" y2="73.51" stroke="#2222dc" stroke-width="1"/>
<line x1="569.14" y1="88.2" x2="575.14" y2="88.2" stroke="#2222dc" stroke-width="1"/>
<line x1="588.32" y1="74.64" x2="588.32" y2="79.19" stroke="#2222dc" stroke-width="1"/>
<line x1="588.32" y1="84.79" x2="588.32" y2="89.33" stroke="#2222dc" stroke-width="1"/>
<line x1="585.32" y1="74.64" x2="591.32" y2="74.64" stroke="#2222dc" stroke-width="1"/>
<line x1="585.32" y1="89.33" x2="591.32" y2="89.33" stroke="#2222dc" stroke-width="1"/>
<line x1="604.5" y1="75.21" x2="604.5" y2="79.75" stroke="#2222dc" stroke-width="1"/>
<line x1="604.5" y1="85.35" x2="604.5" y2="89.9" stroke="#2222dc" stroke-width="1"/>
<line x1="601.5" y1="75.21" x2="607.5" y2="75.21" stroke="#2222dc" stroke-width="1"/>
<line x1="601.5" y1="89.9" x2="607.5" y2="89.9" stroke="#2222dc" stroke-width="1"/>
<line x1="620.68" y1="75.77" x2="620.68" y2="79.75" stroke="#2222dc" stroke-width="1"/>
<line x1="620.68" y1="85.35" x2="620.68" y2="89.33" stroke="#2222dc" stroke-width="1"/>
<line x1="617.68" y1="75.77" x2="623.68" y2="75.77" stroke="#2222dc" stroke-width="1"/>
<line x1="617.68" y1="89.33" x2="623.68" y2="89.33" stroke="#2222dc" stroke-width="1"/>
<circle cx="523.6" cy="120.41" r="2.8" fill="none" stroke="#2222dc" stroke-width="1.05"/>
<circle cx="539.78" cy="100.63" r="2.8" fill="none" stroke="#2222dc" stroke-width="1.05"/>
<circle cx="555.96" cy="100.63" r="2.8" fill="none" stroke="#2222dc" stroke-width="1.05"/>
<circle cx="572.14" cy="80.86" r="2.8" fill="none" stroke="#2222dc" stroke-width="1.05"/>
<circle cx="588.32" cy="81.99" r="2.8" fill="none" stroke="#2222dc" stroke-width="1.05"/>
<circle cx="604.5" cy="82.55" r="2.8" fill="none" stroke="#2222dc" stroke-width="1.05"/>
<circle cx="620.68" cy="82.55" r="2.8" fill="none" stroke="#2222dc" stroke-width="1.05"/>
<circle cx="636.86" cy="97.81" r="2.8" fill="none" stroke="#2222dc" stroke-width="1.05"/>
<circle cx="653.04" cy="120.41" r="2.8" fill="none" stroke="#2222dc" stroke-width="1.05"/>
<polyline points="523.6,120.41 539.78,100.63 555.96,100.63 572.14,80.86 588.32,81.99 604.5,82.55 620.68,82.55 636.86,97.81 653.04,120.41" fill="none" stroke="#2222dc" stroke-width="1"/>
<line x1="520.6" y1="106.28" x2="526.6" y2="106.28" stroke="#e22b2e" stroke-width="1"/>
<line x1="520.6" y1="111.94" x2="526.6" y2="111.94" stroke="#e22b2e" stroke-width="1"/>
<line x1="572.14" y1="67.86" x2="572.14" y2="68.72" stroke="#e22b2e" stroke-width="1"/>
<line x1="572.14" y1="74.92" x2="572.14" y2="75.77" stroke="#e22b2e" stroke-width="1"/>
<line x1="569.14" y1="67.86" x2="575.14" y2="67.86" stroke="#e22b2e" stroke-width="1"/>
<line x1="569.14" y1="75.77" x2="575.14" y2="75.77" stroke="#e22b2e" stroke-width="1"/>
<line x1="588.32" y1="64.47" x2="588.32" y2="66.46" stroke="#e22b2e" stroke-width="1"/>
<line x1="588.32" y1="72.66" x2="588.32" y2="74.64" stroke="#e22b2e" stroke-width="1"/>
<line x1="585.32" y1="64.47" x2="591.32" y2="64.47" stroke="#e22b2e" stroke-width="1"/>
<line x1="585.32" y1="74.64" x2="591.32" y2="74.64" stroke="#e22b2e" stroke-width="1"/>
<line x1="604.5" y1="62.78" x2="604.5" y2="65.33" stroke="#e22b2e" stroke-width="1"/>
<line x1="604.5" y1="71.53" x2="604.5" y2="74.08" stroke="#e22b2e" stroke-width="1"/>
<line x1="601.5" y1="62.78" x2="607.5" y2="62.78" stroke="#e22b2e" stroke-width="1"/>
<line x1="601.5" y1="74.08" x2="607.5" y2="74.08" stroke="#e22b2e" stroke-width="1"/>
<line x1="620.68" y1="63.34" x2="620.68" y2="66.46" stroke="#e22b2e" stroke-width="1"/>
<line x1="620.68" y1="72.66" x2="620.68" y2="75.77" stroke="#e22b2e" stroke-width="1"/>
<line x1="617.68" y1="63.34" x2="623.68" y2="63.34" stroke="#e22b2e" stroke-width="1"/>
<line x1="617.68" y1="75.77" x2="623.68" y2="75.77" stroke="#e22b2e" stroke-width="1"/>
<rect x="520.5" y="106.01" width="6.2" height="6.2" fill="none" stroke="#e22b2e" stroke-width="1.05"/>
<rect x="536.68" y="97.53" width="6.2" height="6.2" fill="none" stroke="#e22b2e" stroke-width="1.05"/>
<rect x="552.86" y="96.97" width="6.2" height="6.2" fill="none" stroke="#e22b2e" stroke-width="1.05"/>
<rect x="569.04" y="68.72" width="6.2" height="6.2" fill="none" stroke="#e22b2e" stroke-width="1.05"/>
<rect x="585.22" y="66.46" width="6.2" height="6.2" fill="none" stroke="#e22b2e" stroke-width="1.05"/>
<rect x="601.4" y="65.33" width="6.2" height="6.2" fill="none" stroke="#e22b2e" stroke-width="1.05"/>
<rect x="617.58" y="66.46" width="6.2" height="6.2" fill="none" stroke="#e22b2e" stroke-width="1.05"/>
<rect x="633.76" y="86.8" width="6.2" height="6.2" fill="none" stroke="#e22b2e" stroke-width="1.05"/>
<rect x="649.94" y="117.31" width="6.2" height="6.2" fill="none" stroke="#e22b2e" stroke-width="1.05"/>
<polyline points="523.6,109.11 539.78,100.63 555.96,100.07 572.14,71.82 588.32,69.56 604.5,68.43 620.68,69.56 636.86,89.9 653.04,120.41" fill="none" stroke="#e22b2e" stroke-width="1"/>
<line x1="643.4" y1="38" x2="653.4" y2="38" stroke="#2222dc" stroke-width="0.9"/>
<circle cx="648.4" cy="38" r="2.7" fill="none" stroke="#2222dc" stroke-width="1.05"/>
<text x="657" y="41.35" font-size="9.3" fill="#1a1718" stroke="#1a1718" stroke-width="0.22">CTL</text>
<line x1="643.4" y1="49.5" x2="653.4" y2="49.5" stroke="#e22b2e" stroke-width="0.9"/>
<rect x="645.4" y="46.5" width="6" height="6" fill="none" stroke="#e22b2e" stroke-width="1.05"/>
<text x="657" y="52.85" font-size="9.3" fill="#1a1718" stroke="#1a1718" stroke-width="0.22">Irisin</text>
<text x="0.4" y="186.4" font-size="15.2" font-weight="bold" fill="#000">d</text>
<line x1="48.3" y1="204.8" x2="48.3" y2="303.5" stroke="#1a1718" stroke-width="1"/>
<line x1="45.1" y1="303" x2="48.3" y2="303" stroke="#1a1718" stroke-width="1"/>
<text x="40.9" y="306.82" font-size="10.6" text-anchor="end" fill="#1a1718" stroke="#1a1718" stroke-width="0.22">0</text>
<line x1="45.1" y1="278.57" x2="48.3" y2="278.57" stroke="#1a1718" stroke-width="1"/>
<text x="40.9" y="282.39" font-size="10.6" text-anchor="end" fill="#1a1718" stroke="#1a1718" stroke-width="0.22">100</text>
<line x1="45.1" y1="254.15" x2="48.3" y2="254.15" stroke="#1a1718" stroke-width="1"/>
<text x="40.9" y="257.97" font-size="10.6" text-anchor="end" fill="#1a1718" stroke="#1a1718" stroke-width="0.22">200</text>
<line x1="45.1" y1="229.73" x2="48.3" y2="229.73" stroke="#1a1718" stroke-width="1"/>
<text x="40.9" y="233.54" font-size="10.6" text-anchor="end" fill="#1a1718" stroke="#1a1718" stroke-width="0.22">300</text>
<line x1="45.1" y1="205.3" x2="48.3" y2="205.3" stroke="#1a1718" stroke-width="1"/>
<text x="40.9" y="209.12" font-size="10.6" text-anchor="end" fill="#1a1718" stroke="#1a1718" stroke-width="0.22">400</text>
<line x1="47.8" y1="303" x2="198.4" y2="303" stroke="#1a1718" stroke-width="1"/>
<line x1="53.6" y1="303" x2="53.6" y2="306.2" stroke="#1a1718" stroke-width="1"/>
<text x="57.42" y="310.2" font-size="10.6" text-anchor="end" transform="rotate(-90 57.42 310.2)" fill="#1a1718" stroke="#1a1718" stroke-width="0.22">0</text>
<line x1="66.17" y1="303" x2="66.17" y2="306.2" stroke="#1a1718" stroke-width="1"/>
<text x="69.99" y="310.2" font-size="10.6" text-anchor="end" transform="rotate(-90 69.99 310.2)" fill="#1a1718" stroke="#1a1718" stroke-width="0.22">9</text>
<line x1="78.74" y1="303" x2="78.74" y2="306.2" stroke="#1a1718" stroke-width="1"/>
<text x="82.56" y="310.2" font-size="10.6" text-anchor="end" transform="rotate(-90 82.56 310.2)" fill="#1a1718" stroke="#1a1718" stroke-width="0.22">18</text>
<line x1="91.31" y1="303" x2="91.31" y2="306.2" stroke="#1a1718" stroke-width="1"/>
<text x="95.13" y="310.2" font-size="10.6" text-anchor="end" transform="rotate(-90 95.13 310.2)" fill="#1a1718" stroke="#1a1718" stroke-width="0.22">27</text>
<line x1="103.88" y1="303" x2="103.88" y2="306.2" stroke="#1a1718" stroke-width="1"/>
<text x="107.7" y="310.2" font-size="10.6" text-anchor="end" transform="rotate(-90 107.7 310.2)" fill="#1a1718" stroke="#1a1718" stroke-width="0.22">36</text>
<line x1="116.45" y1="303" x2="116.45" y2="306.2" stroke="#1a1718" stroke-width="1"/>
<text x="120.27" y="310.2" font-size="10.6" text-anchor="end" transform="rotate(-90 120.27 310.2)" fill="#1a1718" stroke="#1a1718" stroke-width="0.22">45</text>
<line x1="129.02" y1="303" x2="129.02" y2="306.2" stroke="#1a1718" stroke-width="1"/>
<text x="132.84" y="310.2" font-size="10.6" text-anchor="end" transform="rotate(-90 132.84 310.2)" fill="#1a1718" stroke="#1a1718" stroke-width="0.22">54</text>
<line x1="141.59" y1="303" x2="141.59" y2="306.2" stroke="#1a1718" stroke-width="1"/>
<text x="145.41" y="310.2" font-size="10.6" text-anchor="end" transform="rotate(-90 145.41 310.2)" fill="#1a1718" stroke="#1a1718" stroke-width="0.22">63</text>
<line x1="154.16" y1="303" x2="154.16" y2="306.2" stroke="#1a1718" stroke-width="1"/>
<text x="157.98" y="310.2" font-size="10.6" text-anchor="end" transform="rotate(-90 157.98 310.2)" fill="#1a1718" stroke="#1a1718" stroke-width="0.22">72</text>
<line x1="166.73" y1="303" x2="166.73" y2="306.2" stroke="#1a1718" stroke-width="1"/>
<text x="170.55" y="310.2" font-size="10.6" text-anchor="end" transform="rotate(-90 170.55 310.2)" fill="#1a1718" stroke="#1a1718" stroke-width="0.22">81</text>
<line x1="179.3" y1="303" x2="179.3" y2="306.2" stroke="#1a1718" stroke-width="1"/>
<text x="183.12" y="310.2" font-size="10.6" text-anchor="end" transform="rotate(-90 183.12 310.2)" fill="#1a1718" stroke="#1a1718" stroke-width="0.22">90</text>
<line x1="191.87" y1="303" x2="191.87" y2="306.2" stroke="#1a1718" stroke-width="1"/>
<text x="195.69" y="310.2" font-size="10.6" text-anchor="end" transform="rotate(-90 195.69 310.2)" fill="#1a1718" stroke="#1a1718" stroke-width="0.22">99</text>
<text x="9.7" y="254.2" font-size="11.1" text-anchor="middle" transform="rotate(-90 9.7 254.2)" fill="#1a1718" stroke="#1a1718" stroke-width="0.22">OCR (pMoles/min)</text>
<text x="122.5" y="337" font-size="10.9" text-anchor="middle" fill="#1a1718" stroke="#1a1718" stroke-width="0.22">Minutes</text>
<text x="82" y="194.6" font-size="7.9" text-anchor="middle" fill="#1a1718" stroke="#1a1718" stroke-width="0.22">Oligomycin</text>
<line x1="82" y1="198.6" x2="82" y2="209.7" stroke="#1a1718" stroke-width="1.05"/>
<path d="M82 213.2 L79.1 206.9 L82 208.3 L84.9 206.9 Z" fill="#111"/>
<text x="120.4" y="194.6" font-size="7.9" text-anchor="middle" fill="#1a1718" stroke="#1a1718" stroke-width="0.22">FCCP</text>
<line x1="120.4" y1="198.6" x2="120.4" y2="209.7" stroke="#1a1718" stroke-width="1.05"/>
<path d="M120.4 213.2 L117.5 206.9 L120.4 208.3 L123.3 206.9 Z" fill="#111"/>
<text x="157.6" y="194.6" font-size="7.9" text-anchor="middle" fill="#1a1718" stroke="#1a1718" stroke-width="0.22">Rotenone</text>
<line x1="157.6" y1="198.6" x2="157.6" y2="209.7" stroke="#1a1718" stroke-width="1.05"/>
<path d="M157.6 213.2 L154.7 206.9 L157.6 208.3 L160.5 206.9 Z" fill="#111"/>
<path d="M53.6 274.04 L57.4 280.58 L49.8 280.58 Z" fill="none" stroke="#1a1718" stroke-width="1.05"/>
<path d="M66.17 273.55 L69.97 280.09 L62.37 280.09 Z" fill="none" stroke="#1a1718" stroke-width="1.05"/>
<path d="M78.74 273.07 L82.54 279.6 L74.94 279.6 Z" fill="none" stroke="#1a1718" stroke-width="1.05"/>
<path d="M91.31 285.03 L95.11 291.57 L87.51 291.57 Z" fill="none" stroke="#1a1718" stroke-width="1.05"/>
<path d="M103.88 283.32 L107.68 289.86 L100.08 289.86 Z" fill="none" stroke="#1a1718" stroke-width="1.05"/>
<path d="M116.45 283.32 L120.25 289.86 L112.65 289.86 Z" fill="none" stroke="#1a1718" stroke-width="1.05"/>
<path d="M129.02 264.27 L132.82 270.81 L125.22 270.81 Z" fill="none" stroke="#1a1718" stroke-width="1.05"/>
<path d="M141.59 262.07 L145.39 268.61 L137.79 268.61 Z" fill="none" stroke="#1a1718" stroke-width="1.05"/>
<path d="M154.16 260.12 L157.96 266.66 L150.36 266.66 Z" fill="none" stroke="#1a1718" stroke-width="1.05"/>
<path d="M166.73 277.22 L170.53 283.75 L162.93 283.75 Z" fill="none" stroke="#1a1718" stroke-width="1.05"/>
<path d="M179.3 279.17 L183.1 285.71 L175.5 285.71 Z" fill="none" stroke="#1a1718" stroke-width="1.05"/>
<path d="M191.87 278.93 L195.67 285.46 L188.07 285.46 Z" fill="none" stroke="#1a1718" stroke-width="1.05"/>
<polyline points="53.6,277.84 66.17,277.35 78.74,276.87 91.31,288.83 103.88,287.12 116.45,287.12 129.02,268.07 141.59,265.87 154.16,263.92 166.73,281.02 179.3,282.97 191.87,282.73" fill="none" stroke="#1a1718" stroke-width="1"/>
<line x1="50.6" y1="264.41" x2="56.6" y2="264.41" stroke="#2222dc" stroke-width="1"/>
<line x1="50.6" y1="268.32" x2="56.6" y2="268.32" stroke="#2222dc" stroke-width="1"/>
<line x1="63.17" y1="261.23" x2="69.17" y2="261.23" stroke="#2222dc" stroke-width="1"/>
<line x1="63.17" y1="265.14" x2="69.17" y2="265.14" stroke="#2222dc" stroke-width="1"/>
<line x1="75.74" y1="263.19" x2="81.74" y2="263.19" stroke="#2222dc" stroke-width="1"/>
<line x1="75.74" y1="267.1" x2="81.74" y2="267.1" stroke="#2222dc" stroke-width="1"/>
<line x1="129.02" y1="233.88" x2="129.02" y2="234.74" stroke="#2222dc" stroke-width="1"/>
<line x1="129.02" y1="240.34" x2="129.02" y2="241.2" stroke="#2222dc" stroke-width="1"/>
<line x1="126.02" y1="233.88" x2="132.02" y2="233.88" stroke="#2222dc" stroke-width="1"/>
<line x1="126.02" y1="241.2" x2="132.02" y2="241.2" stroke="#2222dc" stroke-width="1"/>
<line x1="141.59" y1="227.28" x2="141.59" y2="229.86" stroke="#2222dc" stroke-width="1"/>
<line x1="141.59" y1="235.46" x2="141.59" y2="238.03" stroke="#2222dc" stroke-width="1"/>
<line x1="138.59" y1="227.28" x2="144.59" y2="227.28" stroke="#2222dc" stroke-width="1"/>
<line x1="138.59" y1="238.03" x2="144.59" y2="238.03" stroke="#2222dc" stroke-width="1"/>
<line x1="154.16" y1="224.84" x2="154.16" y2="227.41" stroke="#2222dc" stroke-width="1"/>
<line x1="154.16" y1="233.01" x2="154.16" y2="235.59" stroke="#2222dc" stroke-width="1"/>
<line x1="151.16" y1="224.84" x2="157.16" y2="224.84" stroke="#2222dc" stroke-width="1"/>
<line x1="151.16" y1="235.59" x2="157.16" y2="235.59" stroke="#2222dc" stroke-width="1"/>
<circle cx="53.6" cy="266.36" r="2.8" fill="none" stroke="#2222dc" stroke-width="1.05"/>
<circle cx="66.17" cy="263.19" r="2.8" fill="none" stroke="#2222dc" stroke-width="1.05"/>
<circle cx="78.74" cy="265.14" r="2.8" fill="none" stroke="#2222dc" stroke-width="1.05"/>
<circle cx="91.31" cy="287.12" r="2.8" fill="none" stroke="#2222dc" stroke-width="1.05"/>
<circle cx="103.88" cy="284.19" r="2.8" fill="none" stroke="#2222dc" stroke-width="1.05"/>
<circle cx="116.45" cy="284.19" r="2.8" fill="none" stroke="#2222dc" stroke-width="1.05"/>
<circle cx="129.02" cy="237.54" r="2.8" fill="none" stroke="#2222dc" stroke-width="1.05"/>
<circle cx="141.59" cy="232.66" r="2.8" fill="none" stroke="#2222dc" stroke-width="1.05"/>
<circle cx="154.16" cy="230.21" r="2.8" fill="none" stroke="#2222dc" stroke-width="1.05"/>
<circle cx="166.73" cy="284.68" r="2.8" fill="none" stroke="#2222dc" stroke-width="1.05"/>
<circle cx="179.3" cy="285.9" r="2.8" fill="none" stroke="#2222dc" stroke-width="1.05"/>
<circle cx="191.87" cy="287.12" r="2.8" fill="none" stroke="#2222dc" stroke-width="1.05"/>
<polyline points="53.6,266.36 66.17,263.19 78.74,265.14 91.31,287.12 103.88,284.19 116.45,284.19 129.02,237.54 141.59,232.66 154.16,230.21 166.73,284.68 179.3,285.9 191.87,287.12" fill="none" stroke="#2222dc" stroke-width="1"/>
<line x1="50.6" y1="268.32" x2="56.6" y2="268.32" stroke="#e22b2e" stroke-width="1"/>
<line x1="50.6" y1="274.18" x2="56.6" y2="274.18" stroke="#e22b2e" stroke-width="1"/>
<line x1="63.17" y1="265.87" x2="69.17" y2="265.87" stroke="#e22b2e" stroke-width="1"/>
<line x1="63.17" y1="271.74" x2="69.17" y2="271.74" stroke="#e22b2e" stroke-width="1"/>
<line x1="75.74" y1="268.32" x2="81.74" y2="268.32" stroke="#e22b2e" stroke-width="1"/>
<line x1="75.74" y1="274.18" x2="81.74" y2="274.18" stroke="#e22b2e" stroke-width="1"/>
<line x1="129.02" y1="244.38" x2="129.02" y2="244.94" stroke="#e22b2e" stroke-width="1"/>
<line x1="129.02" y1="251.14" x2="129.02" y2="251.71" stroke="#e22b2e" stroke-width="1"/>
<line x1="126.02" y1="244.38" x2="132.02" y2="244.38" stroke="#e22b2e" stroke-width="1"/>
<line x1="126.02" y1="251.71" x2="132.02" y2="251.71" stroke="#e22b2e" stroke-width="1"/>
<line x1="141.59" y1="241.94" x2="141.59" y2="242.5" stroke="#e22b2e" stroke-width="1"/>
<line x1="141.59" y1="248.7" x2="141.59" y2="249.27" stroke="#e22b2e" stroke-width="1"/>
<line x1="138.59" y1="241.94" x2="144.59" y2="241.94" stroke="#e22b2e" stroke-width="1"/>
<line x1="138.59" y1="249.27" x2="144.59" y2="249.27" stroke="#e22b2e" stroke-width="1"/>
<line x1="154.16" y1="240.72" x2="154.16" y2="242.01" stroke="#e22b2e" stroke-width="1"/>
<line x1="154.16" y1="248.21" x2="154.16" y2="249.51" stroke="#e22b2e" stroke-width="1"/>
<line x1="151.16" y1="240.72" x2="157.16" y2="240.72" stroke="#e22b2e" stroke-width="1"/>
<line x1="151.16" y1="249.51" x2="157.16" y2="249.51" stroke="#e22b2e" stroke-width="1"/>
<rect x="50.5" y="268.15" width="6.2" height="6.2" fill="none" stroke="#e22b2e" stroke-width="1.05"/>
<rect x="63.07" y="265.7" width="6.2" height="6.2" fill="none" stroke="#e22b2e" stroke-width="1.05"/>
<rect x="75.64" y="268.15" width="6.2" height="6.2" fill="none" stroke="#e22b2e" stroke-width="1.05"/>
<rect x="88.21" y="283.54" width="6.2" height="6.2" fill="none" stroke="#e22b2e" stroke-width="1.05"/>
<rect x="100.78" y="280.85" width="6.2" height="6.2" fill="none" stroke="#e22b2e" stroke-width="1.05"/>
<rect x="113.35" y="281.09" width="6.2" height="6.2" fill="none" stroke="#e22b2e" stroke-width="1.05"/>
<rect x="125.92" y="244.94" width="6.2" height="6.2" fill="none" stroke="#e22b2e" stroke-width="1.05"/>
<rect x="138.49" y="242.5" width="6.2" height="6.2" fill="none" stroke="#e22b2e" stroke-width="1.05"/>
<rect x="151.06" y="242.01" width="6.2" height="6.2" fill="none" stroke="#e22b2e" stroke-width="1.05"/>
<rect x="163.63" y="282.31" width="6.2" height="6.2" fill="none" stroke="#e22b2e" stroke-width="1.05"/>
<rect x="176.2" y="282.31" width="6.2" height="6.2" fill="none" stroke="#e22b2e" stroke-width="1.05"/>
<rect x="188.77" y="283.54" width="6.2" height="6.2" fill="none" stroke="#e22b2e" stroke-width="1.05"/>
<polyline points="53.6,271.25 66.17,268.81 78.74,271.25 91.31,286.64 103.88,283.95 116.45,284.19 129.02,248.04 141.59,245.6 154.16,245.11 166.73,285.41 179.3,285.41 191.87,286.64" fill="none" stroke="#e22b2e" stroke-width="1"/>
<line x1="175" y1="217.8" x2="185" y2="217.8" stroke="#2222dc" stroke-width="0.9"/>
<circle cx="180" cy="217.8" r="2.7" fill="none" stroke="#2222dc" stroke-width="1.05"/>
<text x="189" y="221.15" font-size="9.3" fill="#1a1718" stroke="#1a1718" stroke-width="0.22">CTL</text>
<line x1="175" y1="229.8" x2="185" y2="229.8" stroke="#1a1718" stroke-width="0.9"/>
<path d="M180 226.1 L183.7 232.46 L176.3 232.46 Z" fill="none" stroke="#1a1718" stroke-width="1.05"/>
<text x="189" y="233.15" font-size="9.3" fill="#1a1718" stroke="#1a1718" stroke-width="0.22">TGFβ1</text>
<line x1="175" y1="242" x2="185" y2="242" stroke="#e22b2e" stroke-width="0.9"/>
<rect x="177" y="239" width="6" height="6" fill="none" stroke="#e22b2e" stroke-width="1.05"/>
<text x="189" y="245.35" font-size="9.3" fill="#1a1718" stroke="#1a1718" stroke-width="0.22">TGFβ1-irisin</text>
<text x="252.5" y="186" font-size="15.2" font-weight="bold" fill="#000">e</text>
<line x1="311" y1="200.5" x2="311" y2="302.9" stroke="#1a1718" stroke-width="1"/>
<line x1="307.8" y1="302.4" x2="311" y2="302.4" stroke="#1a1718" stroke-width="1"/>
<text x="304.2" y="306.22" font-size="10.6" text-anchor="end" fill="#1a1718" stroke="#1a1718" stroke-width="0.22">80</text>
<line x1="307.8" y1="282.12" x2="311" y2="282.12" stroke="#1a1718" stroke-width="1"/>
<text x="304.2" y="285.94" font-size="10.6" text-anchor="end" fill="#1a1718" stroke="#1a1718" stroke-width="0.22">100</text>
<line x1="307.8" y1="261.84" x2="311" y2="261.84" stroke="#1a1718" stroke-width="1"/>
<text x="304.2" y="265.66" font-size="10.6" text-anchor="end" fill="#1a1718" stroke="#1a1718" stroke-width="0.22">120</text>
<line x1="307.8" y1="241.56" x2="311" y2="241.56" stroke="#1a1718" stroke-width="1"/>
<text x="304.2" y="245.38" font-size="10.6" text-anchor="end" fill="#1a1718" stroke="#1a1718" stroke-width="0.22">140</text>
<line x1="307.8" y1="221.28" x2="311" y2="221.28" stroke="#1a1718" stroke-width="1"/>
<text x="304.2" y="225.1" font-size="10.6" text-anchor="end" fill="#1a1718" stroke="#1a1718" stroke-width="0.22">160</text>
<line x1="307.8" y1="201" x2="311" y2="201" stroke="#1a1718" stroke-width="1"/>
<text x="304.2" y="204.82" font-size="10.6" text-anchor="end" fill="#1a1718" stroke="#1a1718" stroke-width="0.22">180</text>
<line x1="310.5" y1="302.4" x2="387" y2="302.4" stroke="#1a1718" stroke-width="1"/>
<line x1="323.6" y1="302.4" x2="323.6" y2="305.6" stroke="#1a1718" stroke-width="1"/>
<line x1="349" y1="302.4" x2="349" y2="305.6" stroke="#1a1718" stroke-width="1"/>
<line x1="374" y1="302.4" x2="374" y2="305.6" stroke="#1a1718" stroke-width="1"/>
<line x1="323.6" y1="212.15" x2="323.6" y2="239.53" stroke="#1a1718" stroke-width="0.9"/>
<line x1="319.4" y1="212.15" x2="327.8" y2="212.15" stroke="#1a1718" stroke-width="0.9"/>
<line x1="319.4" y1="239.53" x2="327.8" y2="239.53" stroke="#1a1718" stroke-width="0.9"/>
<rect x="314.9" y="213.17" width="17.4" height="22.31" fill="#1da1e4" stroke="#1a1718" stroke-width="0.8"/>
<line x1="314.9" y1="221.28" x2="332.3" y2="221.28" stroke="#1a1718" stroke-width="0.8"/>
<line x1="349" y1="265.49" x2="349" y2="286.89" stroke="#1a1718" stroke-width="0.9"/>
<line x1="344.8" y1="265.49" x2="353.2" y2="265.49" stroke="#1a1718" stroke-width="0.9"/>
<line x1="344.8" y1="286.89" x2="353.2" y2="286.89" stroke="#1a1718" stroke-width="0.9"/>
<rect x="340.3" y="265.9" width="17.4" height="19.98" fill="#000" stroke="#1a1718" stroke-width="0.8"/>
<line x1="340.3" y1="274.51" x2="357.7" y2="274.51" stroke="#262626" stroke-width="0.8"/>
<line x1="374" y1="222.29" x2="374" y2="260.32" stroke="#1a1718" stroke-width="0.9"/>
<line x1="369.8" y1="222.29" x2="378.2" y2="222.29" stroke="#1a1718" stroke-width="0.9"/>
<line x1="369.8" y1="260.32" x2="378.2" y2="260.32" stroke="#1a1718" stroke-width="0.9"/>
<rect x="365.3" y="229.39" width="17.4" height="28.9" fill="#e6007e" stroke="#1a1718" stroke-width="0.8"/>
<line x1="365.3" y1="252.21" x2="382.7" y2="252.21" stroke="#1a1718" stroke-width="0.8"/>
<path d="M323.4 205.4 Q323.6 203.7 325.2 203.7 L345.2 203.7 Q346.8 203.7 347 205.4" fill="none" stroke="#151515" stroke-width="1"/>
<text x="318.3" y="200.6" font-size="8.55" word-spacing="-0.3" fill="#1a1718" stroke="#1a1718" stroke-width="0.2"><tspan font-style="italic">p</tspan><tspan> &lt; 0.01</tspan></text>
<path d="M350.4 205.4 Q350.6 203.7 352.2 203.7 L372.2 203.7 Q373.8 203.7 374 205.4" fill="none" stroke="#151515" stroke-width="1"/>
<text x="349.5" y="200.6" font-size="8.55" word-spacing="-0.3" fill="#1a1718" stroke="#1a1718" stroke-width="0.2"><tspan font-style="italic">p</tspan><tspan> &lt; 0.05</tspan></text>
<text x="326.2" y="311.7" font-size="10.7" text-anchor="end" transform="rotate(-45 326.2 311.7)" fill="#1a1718" stroke="#1a1718" stroke-width="0.22">CTL</text>
<text x="351.6" y="311.7" font-size="10.7" text-anchor="end" transform="rotate(-45 351.6 311.7)" fill="#1a1718" stroke="#1a1718" stroke-width="0.22">TGFβ1</text>
<text x="376.6" y="311.7" font-size="10.7" text-anchor="end" transform="rotate(-45 376.6 311.7)" fill="#1a1718" stroke="#1a1718" stroke-width="0.22">TGFβ1+irisin</text>
<text x="264.2" y="248.5" font-size="10.9" text-anchor="middle" transform="rotate(-90 264.2 248.5)" fill="#1a1718" stroke="#1a1718" stroke-width="0.22">Basal OCR</text>
<text x="277" y="248.5" font-size="10.9" text-anchor="middle" transform="rotate(-90 277 248.5)" fill="#1a1718" stroke="#1a1718" stroke-width="0.22">(pMol/min)</text>
<line x1="453.6" y1="195.1" x2="453.6" y2="302.3" stroke="#1a1718" stroke-width="1"/>
<line x1="450.4" y1="301.8" x2="453.6" y2="301.8" stroke="#1a1718" stroke-width="1"/>
<text x="446.8" y="305.62" font-size="10.6" text-anchor="end" fill="#1a1718" stroke="#1a1718" stroke-width="0.22">0</text>
<line x1="450.4" y1="275.25" x2="453.6" y2="275.25" stroke="#1a1718" stroke-width="1"/>
<text x="446.8" y="279.07" font-size="10.6" text-anchor="end" fill="#1a1718" stroke="#1a1718" stroke-width="0.22">100</text>
<line x1="450.4" y1="248.7" x2="453.6" y2="248.7" stroke="#1a1718" stroke-width="1"/>
<text x="446.8" y="252.52" font-size="10.6" text-anchor="end" fill="#1a1718" stroke="#1a1718" stroke-width="0.22">200</text>
<line x1="450.4" y1="222.15" x2="453.6" y2="222.15" stroke="#1a1718" stroke-width="1"/>
<text x="446.8" y="225.97" font-size="10.6" text-anchor="end" fill="#1a1718" stroke="#1a1718" stroke-width="0.22">300</text>
<line x1="450.4" y1="195.6" x2="453.6" y2="195.6" stroke="#1a1718" stroke-width="1"/>
<text x="446.8" y="199.42" font-size="10.6" text-anchor="end" fill="#1a1718" stroke="#1a1718" stroke-width="0.22">400</text>
<line x1="453.1" y1="301.8" x2="530" y2="301.8" stroke="#1a1718" stroke-width="1"/>
<line x1="466.4" y1="301.8" x2="466.4" y2="305" stroke="#1a1718" stroke-width="1"/>
<line x1="492.7" y1="301.8" x2="492.7" y2="305" stroke="#1a1718" stroke-width="1"/>
<line x1="519" y1="301.8" x2="519" y2="305" stroke="#1a1718" stroke-width="1"/>
<line x1="466.4" y1="213.39" x2="466.4" y2="236.49" stroke="#1a1718" stroke-width="0.9"/>
<line x1="462.2" y1="213.39" x2="470.6" y2="213.39" stroke="#1a1718" stroke-width="0.9"/>
<line x1="462.2" y1="236.49" x2="470.6" y2="236.49" stroke="#1a1718" stroke-width="0.9"/>
<rect x="457.4" y="216.04" width="18" height="19.38" fill="#1da1e4" stroke="#1a1718" stroke-width="0.8"/>
<line x1="457.4" y1="226.93" x2="475.4" y2="226.93" stroke="#1a1718" stroke-width="0.8"/>
<line x1="492.7" y1="256.67" x2="492.7" y2="267.55" stroke="#1a1718" stroke-width="0.9"/>
<line x1="488.5" y1="256.67" x2="496.9" y2="256.67" stroke="#1a1718" stroke-width="0.9"/>
<line x1="488.5" y1="267.55" x2="496.9" y2="267.55" stroke="#1a1718" stroke-width="0.9"/>
<rect x="483.7" y="256.93" width="18" height="9.03" fill="#000" stroke="#1a1718" stroke-width="0.8"/>
<line x1="483.7" y1="261.44" x2="501.7" y2="261.44" stroke="#262626" stroke-width="0.8"/>
<line x1="519" y1="229.05" x2="519" y2="252.15" stroke="#1a1718" stroke-width="0.9"/>
<line x1="514.8" y1="229.05" x2="523.2" y2="229.05" stroke="#1a1718" stroke-width="0.9"/>
<line x1="514.8" y1="252.15" x2="523.2" y2="252.15" stroke="#1a1718" stroke-width="0.9"/>
<rect x="510" y="230.12" width="18" height="20.44" fill="#e6007e" stroke="#1a1718" stroke-width="0.8"/>
<line x1="510" y1="239.94" x2="528" y2="239.94" stroke="#1a1718" stroke-width="0.8"/>
<path d="M466.6 206.4 Q466.8 204.7 468.4 204.7 L488.8 204.7 Q490.4 204.7 490.6 206.4" fill="none" stroke="#151515" stroke-width="1"/>
<text x="460.4" y="201.6" font-size="8.55" word-spacing="-0.3" fill="#1a1718" stroke="#1a1718" stroke-width="0.2"><tspan font-style="italic">p</tspan><tspan> &lt; 0.01</tspan></text>
<path d="M494.3 206.4 Q494.5 204.7 496.1 204.7 L516 204.7 Q517.6 204.7 517.8 206.4" fill="none" stroke="#151515" stroke-width="1"/>
<text x="493.9" y="201.6" font-size="8.55" word-spacing="-0.3" fill="#1a1718" stroke="#1a1718" stroke-width="0.2"><tspan font-style="italic">p</tspan><tspan> &lt; 0.05</tspan></text>
<text x="469" y="311.7" font-size="10.7" text-anchor="end" transform="rotate(-45 469 311.7)" fill="#1a1718" stroke="#1a1718" stroke-width="0.22">CTL</text>
<text x="495.3" y="311.7" font-size="10.7" text-anchor="end" transform="rotate(-45 495.3 311.7)" fill="#1a1718" stroke="#1a1718" stroke-width="0.22">TGFβ1</text>
<text x="521.6" y="311.7" font-size="10.7" text-anchor="end" transform="rotate(-45 521.6 311.7)" fill="#1a1718" stroke="#1a1718" stroke-width="0.22">TGFβ1+irisin</text>
<text x="406.6" y="250" font-size="10.9" text-anchor="middle" transform="rotate(-90 406.6 250)" fill="#1a1718" stroke="#1a1718" stroke-width="0.22">Maximal OCR</text>
<text x="420.4" y="250" font-size="10.9" text-anchor="middle" transform="rotate(-90 420.4 250)" fill="#1a1718" stroke="#1a1718" stroke-width="0.22">(mMoles/min)</text>
<line x1="598.1" y1="195.8" x2="598.1" y2="302.8" stroke="#7d7d7d" stroke-width="1.6"/>
<line x1="594.9" y1="302.3" x2="598.1" y2="302.3" stroke="#1a1718" stroke-width="1"/>
<text x="591.3" y="306.12" font-size="10.6" text-anchor="end" fill="#1a1718" stroke="#1a1718" stroke-width="0.22">0</text>
<line x1="594.9" y1="281.1" x2="598.1" y2="281.1" stroke="#1a1718" stroke-width="1"/>
<text x="591.3" y="284.92" font-size="10.6" text-anchor="end" fill="#1a1718" stroke="#1a1718" stroke-width="0.22">20</text>
<line x1="594.9" y1="259.9" x2="598.1" y2="259.9" stroke="#1a1718" stroke-width="1"/>
<text x="591.3" y="263.72" font-size="10.6" text-anchor="end" fill="#1a1718" stroke="#1a1718" stroke-width="0.22">40</text>
<line x1="594.9" y1="238.7" x2="598.1" y2="238.7" stroke="#1a1718" stroke-width="1"/>
<text x="591.3" y="242.52" font-size="10.6" text-anchor="end" fill="#1a1718" stroke="#1a1718" stroke-width="0.22">60</text>
<line x1="594.9" y1="217.5" x2="598.1" y2="217.5" stroke="#1a1718" stroke-width="1"/>
<text x="591.3" y="221.32" font-size="10.6" text-anchor="end" fill="#1a1718" stroke="#1a1718" stroke-width="0.22">80</text>
<line x1="594.9" y1="196.3" x2="598.1" y2="196.3" stroke="#1a1718" stroke-width="1"/>
<text x="591.3" y="200.12" font-size="10.6" text-anchor="end" fill="#1a1718" stroke="#1a1718" stroke-width="0.22">100</text>
<line x1="597.3" y1="302.5" x2="677" y2="302.5" stroke="#7d7d7d" stroke-width="1.6"/>
<line x1="611.1" y1="302.3" x2="611.1" y2="305.5" stroke="#1a1718" stroke-width="1"/>
<line x1="637.3" y1="302.3" x2="637.3" y2="305.5" stroke="#1a1718" stroke-width="1"/>
<line x1="663.5" y1="302.3" x2="663.5" y2="305.5" stroke="#1a1718" stroke-width="1"/>
<line x1="611.1" y1="210.29" x2="611.1" y2="219.62" stroke="#1a1718" stroke-width="0.9"/>
<line x1="606.9" y1="210.29" x2="615.3" y2="210.29" stroke="#1a1718" stroke-width="0.9"/>
<line x1="606.9" y1="219.62" x2="615.3" y2="219.62" stroke="#1a1718" stroke-width="0.9"/>
<rect x="602.3" y="210.61" width="17.6" height="7.95" fill="#1da1e4" stroke="#1a1718" stroke-width="0.8"/>
<line x1="602.3" y1="212.73" x2="619.9" y2="212.73" stroke="#1a1718" stroke-width="0.8"/>
<line x1="637.3" y1="244.74" x2="637.3" y2="274.21" stroke="#1a1718" stroke-width="0.9"/>
<line x1="633.1" y1="244.74" x2="641.5" y2="244.74" stroke="#1a1718" stroke-width="0.9"/>
<line x1="633.1" y1="274.21" x2="641.5" y2="274.21" stroke="#1a1718" stroke-width="0.9"/>
<rect x="628.5" y="246.44" width="17.6" height="23.53" fill="#000" stroke="#1a1718" stroke-width="0.8"/>
<line x1="628.5" y1="247.71" x2="646.1" y2="247.71" stroke="#262626" stroke-width="0.8"/>
<line x1="663.5" y1="230.64" x2="663.5" y2="249.3" stroke="#1a1718" stroke-width="0.9"/>
<line x1="659.3" y1="230.64" x2="667.7" y2="230.64" stroke="#1a1718" stroke-width="0.9"/>
<line x1="659.3" y1="249.3" x2="667.7" y2="249.3" stroke="#1a1718" stroke-width="0.9"/>
<rect x="654.7" y="231.28" width="17.6" height="15.37" fill="#e6007e" stroke="#1a1718" stroke-width="0.8"/>
<line x1="654.7" y1="235.2" x2="672.3" y2="235.2" stroke="#1a1718" stroke-width="0.8"/>
<path d="M610.7 204 Q610.9 202.3 612.5 202.3 L632.8 202.3 Q634.4 202.3 634.6 204" fill="none" stroke="#151515" stroke-width="1"/>
<text x="603" y="199" font-size="8.55" word-spacing="-0.3" fill="#1a1718" stroke="#1a1718" stroke-width="0.2"><tspan font-style="italic">p</tspan><tspan dx="2.2"> &lt; 0.01</tspan></text>
<path d="M638.2 204 Q638.4 202.3 640 202.3 L659.7 202.3 Q661.3 202.3 661.5 204" fill="none" stroke="#151515" stroke-width="1"/>
<text x="638.6" y="199" font-size="8.55" word-spacing="-0.3" fill="#1a1718" stroke="#1a1718" stroke-width="0.2"><tspan font-style="italic">p</tspan><tspan dx="1.2"> &lt; 0.05</tspan></text>
<text x="613.7" y="312" font-size="10.7" text-anchor="end" transform="rotate(-45 613.7 312)" fill="#1a1718" stroke="#1a1718" stroke-width="0.22">CTL</text>
<text x="639.9" y="312" font-size="10.7" text-anchor="end" transform="rotate(-45 639.9 312)" fill="#1a1718" stroke="#1a1718" stroke-width="0.22">TGFβ1</text>
<text x="666.1" y="312" font-size="10.7" text-anchor="end" transform="rotate(-45 666.1 312)" fill="#1a1718" stroke="#1a1718" stroke-width="0.22">TGFβ1+irisin</text>
<text x="551.8" y="249.5" font-size="10.9" text-anchor="middle" transform="rotate(-90 551.8 249.5)" fill="#1a1718" stroke="#1a1718" stroke-width="0.22">ATP-coupled</text>
<text x="564.6" y="249.5" font-size="10.9" text-anchor="middle" transform="rotate(-90 564.6 249.5)" fill="#1a1718" stroke="#1a1718" stroke-width="0.22">respiration (pMol/min)</text>
<text x="0.7" y="376.6" font-size="15.2" font-weight="bold" fill="#000">f</text>
<g clip-path="url(#cf0)">
<rect x="8" y="383.4" width="136.4" height="110.6" fill="#33040b"/>
<ellipse cx="48" cy="385.5" rx="24" ry="3" fill="#a00e1c" filter="url(#b2)" opacity="0.8"/>
<ellipse cx="92" cy="446" rx="62" ry="48" fill="#7c0a14" filter="url(#b5)" opacity="0.95"/>
<ellipse cx="130" cy="400" rx="30" ry="22" fill="#6a0812" filter="url(#b5)" opacity="0.8"/>
<ellipse cx="90" cy="436" rx="45" ry="39" fill="#a00c18" filter="url(#b4)" opacity="0.9"/>
<ellipse cx="84" cy="444" rx="80" ry="62" fill="url(#maskA)" transform="rotate(17 84 444)" filter="url(#filA)" opacity="0.9"/>
<ellipse cx="92" cy="438" rx="60" ry="50" fill="url(#maskA)" transform="rotate(-23 92 438)" filter="url(#filA2)"/>
<ellipse cx="93" cy="430.5" rx="36.5" ry="31.5" fill="#c01020" transform="rotate(-8 93 430.5)" filter="url(#b2)" opacity="0.7"/>
<ellipse cx="93" cy="430" rx="35" ry="30" fill="url(#nucA)" transform="rotate(-8 93 430)" filter="url(#b1)"/>
<ellipse cx="93" cy="430" rx="31" ry="26.5" fill="#fff" transform="rotate(-8 93 430)" filter="url(#spkB)" opacity="0.75"/>
<ellipse cx="93" cy="430" rx="33" ry="28" fill="url(#maskB)" transform="rotate(31 93 430)" filter="url(#filA2)" opacity="0.45"/>
</g>
<text x="13" y="396.6" font-size="10.7" fill="#fff" stroke="#fff" stroke-width="0.22">CTL</text>
<g clip-path="url(#cf1)">
<rect x="148" y="383.4" width="138.4" height="110.6" fill="#24030a"/>
<ellipse cx="208" cy="432" rx="62" ry="44" fill="#420810" filter="url(#b5)" opacity="0.65"/>
<ellipse cx="212" cy="432" rx="72" ry="54" fill="url(#maskA)" transform="rotate(11 212 432)" filter="url(#filB)" opacity="0.9"/>
<ellipse cx="205" cy="440" rx="56" ry="46" fill="url(#maskA)" transform="rotate(-19 205 440)" filter="url(#filB2)" opacity="0.8"/>
<ellipse cx="282" cy="482" rx="34" ry="26" fill="#200308" filter="url(#b5)" opacity="0.95"/>
<ellipse cx="145" cy="416" rx="15.5" ry="25" fill="#900e1c" transform="rotate(-8 145 416)" filter="url(#b2)" opacity="0.55"/>
<ellipse cx="145" cy="416" rx="14" ry="23.5" fill="url(#nucB)" transform="rotate(-8 145 416)" filter="url(#b1)"/>
<ellipse cx="211" cy="440.5" rx="38.5" ry="32" fill="#a00e1c" transform="rotate(-25 211 440.5)" filter="url(#b2)" opacity="0.55"/>
<ellipse cx="211" cy="440.5" rx="37" ry="30.5" fill="url(#nucB)" transform="rotate(-25 211 440.5)" filter="url(#b1)"/>
<ellipse cx="211" cy="440.5" rx="33" ry="26.5" fill="#fff" transform="rotate(-25 211 440.5)" filter="url(#spkR)" opacity="0.55"/>
</g>
<text x="152.4" y="396.6" font-size="10.7" fill="#fff" stroke="#fff" stroke-width="0.22">TGF-β1</text>
<g clip-path="url(#cf2)">
<rect x="289" y="383.4" width="142" height="110.6" fill="#1a0206"/>
<ellipse cx="356" cy="441" rx="44" ry="38" fill="#580810" filter="url(#b5)" opacity="0.85"/>
<ellipse cx="355" cy="439" rx="53" ry="47" fill="url(#maskA)" transform="rotate(14 355 439)" filter="url(#filC)" opacity="0.9"/>
<ellipse cx="357" cy="442" rx="47" ry="40" fill="url(#maskA)" transform="rotate(-21 357 442)" filter="url(#filC2)" opacity="0.85"/>
<ellipse cx="403" cy="438" rx="28" ry="11" fill="url(#maskB)" transform="rotate(-24 403 438)" filter="url(#filC)" opacity="0.85"/>
<ellipse cx="316" cy="476" rx="34" ry="11" fill="url(#maskB)" transform="rotate(-33 316 476)" filter="url(#filC)" opacity="0.85"/>
<ellipse cx="366" cy="397" rx="30" ry="14" fill="url(#maskB)" transform="rotate(8 366 397)" filter="url(#filC)" opacity="0.8"/>
<ellipse cx="358.7" cy="442" rx="32" ry="27.5" fill="#b81020" filter="url(#b2)" opacity="0.7"/>
<ellipse cx="359.3" cy="442.4" rx="30.3" ry="25.8" fill="url(#nucC)" transform="rotate(-6 359.3 442.4)" filter="url(#b1)"/>
<ellipse cx="358.7" cy="442" rx="26.5" ry="22" fill="#fff" transform="rotate(-6 358.7 442)" filter="url(#spkR)" opacity="0.6"/>
</g>
<text x="294.4" y="396.6" font-size="10.7" fill="#fff" stroke="#fff" stroke-width="0.22">TGF-β1+irisin</text>
<rect x="390.4" y="485.4" width="31.6" height="2.1" fill="#fff"/>
<text x="443.1" y="375.2" font-size="15.2" font-weight="bold" fill="#000">g</text>
<text x="515.4" y="391.2" font-size="10.7" text-anchor="end" fill="#1a1718" stroke="#1a1718" stroke-width="0.22">TGF-β1</text>
<text x="515.4" y="405.2" font-size="10.7" text-anchor="end" fill="#1a1718" stroke="#1a1718" stroke-width="0.22">Irisin</text>
<text x="540.6" y="391.6" font-size="10.5" text-anchor="middle" fill="#1a1718" stroke="#1a1718" stroke-width="0.22">–</text>
<text x="540.6" y="405.6" font-size="10.5" text-anchor="middle" fill="#1a1718" stroke="#1a1718" stroke-width="0.22">–</text>
<text x="577" y="391.6" font-size="10.5" text-anchor="middle" fill="#1a1718" stroke="#1a1718" stroke-width="0.22">+</text>
<text x="577" y="405.6" font-size="10.5" text-anchor="middle" fill="#1a1718" stroke="#1a1718" stroke-width="0.22">–</text>
<text x="613" y="391.6" font-size="10.5" text-anchor="middle" fill="#1a1718" stroke="#1a1718" stroke-width="0.22">+</text>
<text x="613" y="405.6" font-size="10.5" text-anchor="middle" fill="#1a1718" stroke="#1a1718" stroke-width="0.22">+</text>
<rect x="520.5" y="409.1" width="111.1" height="21.4" fill="#e1e1e1"/>
<text x="515.4" y="423.8" font-size="10.9" text-anchor="end" fill="#1a1718" stroke="#1a1718" stroke-width="0.22">p-Smad2</text>
<rect x="520.5" y="435" width="111.1" height="22.8" fill="#e1e1e1"/>
<text x="515.4" y="448.2" font-size="10.9" text-anchor="end" fill="#1a1718" stroke="#1a1718" stroke-width="0.22">Smad2</text>
<rect x="520.5" y="462.5" width="111.1" height="21.7" fill="#e1e1e1"/>
<text x="515.4" y="478.2" font-size="10.9" text-anchor="end" fill="#1a1718" stroke="#1a1718" stroke-width="0.22">PGC-1α</text>
<rect x="520.5" y="488.4" width="111.1" height="21.9" fill="#e1e1e1"/>
<text x="515.4" y="507.4" font-size="10.9" text-anchor="end" fill="#1a1718" stroke="#1a1718" stroke-width="0.22">PPARα</text>
<rect x="520.5" y="514.8" width="111.1" height="24.8" fill="#e1e1e1"/>
<text x="515.4" y="534" font-size="10.9" text-anchor="end" fill="#1a1718" stroke="#1a1718" stroke-width="0.22">GAPDH</text>
<rect x="525.5" y="417.3" width="26" height="3.2" rx="1.6" fill="#9a9a9a" opacity="0.45" filter="url(#bb)"/>
<rect x="562" y="417.5" width="29" height="4.6" rx="2.3" fill="#0c0c0c" opacity="1" filter="url(#bb)"/>
<rect x="565" y="418.3" width="23" height="3" rx="1.5" fill="#000" opacity="1" filter="url(#bb)"/>
<rect x="598" y="418.5" width="29" height="3.4" rx="1.7" fill="#707070" opacity="0.6" filter="url(#bb)"/>
<rect x="619" y="418.8" width="7" height="3.2" rx="1.6" fill="#505050" opacity="0.5" filter="url(#bb)"/>
<rect x="525.5" y="443.5" width="28" height="5.6" rx="2.8" fill="#444" opacity="0.88" filter="url(#bb)"/>
<rect x="562" y="443.5" width="29" height="5.6" rx="2.8" fill="#444" opacity="0.88" filter="url(#bb)"/>
<rect x="598" y="443.5" width="29" height="5.6" rx="2.8" fill="#444" opacity="0.88" filter="url(#bb)"/>
<rect x="525.5" y="468.7" width="28" height="5.2" rx="2.6" fill="#404040" opacity="0.88" filter="url(#bb)"/>
<rect x="562" y="470.1" width="29" height="3.4" rx="1.7" fill="#909090" opacity="0.45" filter="url(#bb)"/>
<rect x="598" y="470.1" width="29" height="5.4" rx="2.7" fill="#686868" opacity="0.72" filter="url(#bb)"/>
<rect x="521.5" y="476" width="109.1" height="6" fill="#cfcfcf" opacity="0.5" filter="url(#bf)"/>
<rect x="526.5" y="498.4" width="30" height="5.2" rx="2.6" fill="#080808" opacity="1" filter="url(#bb)"/>
<rect x="531.5" y="499.3" width="22" height="3.4" rx="1.7" fill="#000" opacity="1" filter="url(#bb)"/>
<rect x="562" y="498.8" width="29" height="3.2" rx="1.6" fill="#8a8a8a" opacity="0.5" filter="url(#bb)"/>
<rect x="562" y="492.5" width="29" height="3" rx="1.5" fill="#b0b0b0" opacity="0.4" filter="url(#bb)"/>
<rect x="598" y="501.4" width="29" height="4.4" rx="2.2" fill="#2c2c2c" opacity="0.85" filter="url(#bb)"/>
<rect x="615" y="501.1" width="11" height="4.6" rx="2.3" fill="#000" opacity="0.8" filter="url(#bb)"/>
<rect x="529.5" y="490.5" width="20" height="5" rx="2.5" fill="#a0a0a0" opacity="0.4" filter="url(#bf)"/>
<path d="M523 526 C523 520.8 545 521 553 521.6 C558 522 560 523.2 562 523.2 C566 523.2 570 521.4 580 521.4 C590 521.4 594 523.2 597 523.2 C601 523.2 606 521.6 616 521.8 C624 522 628 522.6 631.6 523 L631.6 529 C626 530.2 606 531 597 529.8 C590 531.2 570 531.4 562 529.8 C552 531.6 523 531.4 523 526 Z" fill="#000" filter="url(#b1)"/>
<rect x="525" y="533.4" width="31" height="2.4" rx="1.2" fill="#505050" opacity="0.7" filter="url(#bb)"/>
<rect x="530" y="536.3" width="22" height="1.8" rx="0.9" fill="#707070" opacity="0.6" filter="url(#bb)"/>
<rect x="563" y="533.9" width="25" height="2.2" rx="1.1" fill="#707070" opacity="0.6" filter="url(#bb)"/>
<rect x="600" y="534.4" width="26" height="2" rx="1" fill="#8a8a8a" opacity="0.5" filter="url(#bb)"/>
<rect x="520.5" y="409.1" width="111.1" height="21.4" fill="none" stroke="#2a2a2a" stroke-width="1"/>
<rect x="520.5" y="435" width="111.1" height="22.8" fill="none" stroke="#2a2a2a" stroke-width="1"/>
<rect x="520.5" y="462.5" width="111.1" height="21.7" fill="none" stroke="#2a2a2a" stroke-width="1"/>
<rect x="520.5" y="488.4" width="111.1" height="21.9" fill="none" stroke="#2a2a2a" stroke-width="1"/>
<rect x="520.5" y="514.8" width="111.1" height="24.8" fill="none" stroke="#2a2a2a" stroke-width="1"/>
<line x1="632.4" y1="422.4" x2="636" y2="422.4" stroke="#1a1718" stroke-width="0.9"/>
<text x="639.4" y="425.4" font-size="10.9" fill="#1a1718" stroke="#1a1718" stroke-width="0.22">50 kD</text>
<line x1="632.4" y1="448.6" x2="636" y2="448.6" stroke="#1a1718" stroke-width="0.9"/>
<text x="639.4" y="450.6" font-size="10.9" fill="#1a1718" stroke="#1a1718" stroke-width="0.22">50 kD</text>
<line x1="632.4" y1="467.4" x2="636" y2="467.4" stroke="#1a1718" stroke-width="0.9"/>
<text x="639.4" y="472.6" font-size="10.9" fill="#1a1718" stroke="#1a1718" stroke-width="0.22">100 kD</text>
<line x1="632.4" y1="505.4" x2="636" y2="505.4" stroke="#1a1718" stroke-width="0.9"/>
<text x="639.4" y="508" font-size="10.9" fill="#1a1718" stroke="#1a1718" stroke-width="0.22">50 kD</text>
<line x1="632.4" y1="523" x2="636" y2="523" stroke="#1a1718" stroke-width="0.9"/>
<text x="639.4" y="529" font-size="10.9" fill="#1a1718" stroke="#1a1718" stroke-width="0.22">37 kD</text>
<line x1="482.6" y1="559.9" x2="482.6" y2="666.9" stroke="#1a1718" stroke-width="1"/>
<line x1="479.4" y1="666.4" x2="482.6" y2="666.4" stroke="#1a1718" stroke-width="1"/>
<text x="476.6" y="670.29" font-size="10.8" text-anchor="end" fill="#1a1718" stroke="#1a1718" stroke-width="0.22">0.0</text>
<line x1="479.4" y1="631.07" x2="482.6" y2="631.07" stroke="#1a1718" stroke-width="1"/>
<text x="476.6" y="634.95" font-size="10.8" text-anchor="end" fill="#1a1718" stroke="#1a1718" stroke-width="0.22">0.5</text>
<line x1="479.4" y1="595.73" x2="482.6" y2="595.73" stroke="#1a1718" stroke-width="1"/>
<text x="476.6" y="599.62" font-size="10.8" text-anchor="end" fill="#1a1718" stroke="#1a1718" stroke-width="0.22">1.0</text>
<line x1="479.4" y1="560.4" x2="482.6" y2="560.4" stroke="#1a1718" stroke-width="1"/>
<text x="476.6" y="564.29" font-size="10.8" text-anchor="end" fill="#1a1718" stroke="#1a1718" stroke-width="0.22">1.5</text>
<line x1="482.1" y1="666.4" x2="676" y2="666.4" stroke="#1a1718" stroke-width="1"/>
<text x="451.8" y="609.5" font-size="11" text-anchor="middle" transform="rotate(-90 451.8 609.5)" fill="#1a1718" stroke="#1a1718" stroke-width="0.22">Proteins/β-actin</text>
<line x1="497.2" y1="652.27" x2="497.2" y2="655.09" stroke="#1a1718" stroke-width="1.1"/>
<line x1="493.8" y1="652.27" x2="500.6" y2="652.27" stroke="#1a1718" stroke-width="1.1"/>
<rect x="491.4" y="655.09" width="11.6" height="11.31" fill="#1da1e4" stroke="#1a1718" stroke-width="0.7"/>
<line x1="514.4" y1="605.63" x2="514.4" y2="611.99" stroke="#1a1718" stroke-width="1.1"/>
<line x1="511" y1="605.63" x2="517.8" y2="605.63" stroke="#1a1718" stroke-width="1.1"/>
<rect x="508.6" y="611.99" width="11.6" height="54.41" fill="#000"/>
<line x1="531.6" y1="638.84" x2="531.6" y2="640.96" stroke="#1a1718" stroke-width="1.1"/>
<line x1="528.2" y1="638.84" x2="535" y2="638.84" stroke="#1a1718" stroke-width="1.1"/>
<rect x="525.8" y="640.96" width="11.6" height="25.44" fill="#e6007e" stroke="#1a1718" stroke-width="0.7"/>
<line x1="514.4" y1="666.4" x2="514.4" y2="669.8" stroke="#1a1718" stroke-width="1"/>
<text x="514.4" y="682.4" font-size="10.85" text-anchor="middle" fill="#1a1718" stroke="#1a1718" stroke-width="0.22">p-Smad2</text>
<line x1="560.8" y1="616.23" x2="560.8" y2="621.17" stroke="#1a1718" stroke-width="1.1"/>
<line x1="557.4" y1="616.23" x2="564.2" y2="616.23" stroke="#1a1718" stroke-width="1.1"/>
<rect x="555" y="621.17" width="11.6" height="45.23" fill="#1da1e4" stroke="#1a1718" stroke-width="0.7"/>
<line x1="578" y1="659.12" x2="578" y2="660.18" stroke="#1a1718" stroke-width="1.1"/>
<line x1="574.6" y1="659.12" x2="581.4" y2="659.12" stroke="#1a1718" stroke-width="1.1"/>
<rect x="572.2" y="660.18" width="11.6" height="6.22" fill="#000"/>
<line x1="595.2" y1="639.41" x2="595.2" y2="641.17" stroke="#1a1718" stroke-width="1.1"/>
<line x1="591.8" y1="639.41" x2="598.6" y2="639.41" stroke="#1a1718" stroke-width="1.1"/>
<rect x="589.4" y="641.17" width="11.6" height="25.23" fill="#e6007e" stroke="#1a1718" stroke-width="0.7"/>
<line x1="578" y1="666.4" x2="578" y2="669.8" stroke="#1a1718" stroke-width="1"/>
<text x="578" y="682.4" font-size="10.85" text-anchor="middle" fill="#1a1718" stroke="#1a1718" stroke-width="0.22">PGC-1α</text>
<line x1="624.8" y1="588.67" x2="624.8" y2="597.15" stroke="#1a1718" stroke-width="1.1"/>
<line x1="621.4" y1="588.67" x2="628.2" y2="588.67" stroke="#1a1718" stroke-width="1.1"/>
<rect x="619" y="597.15" width="11.6" height="69.25" fill="#1da1e4" stroke="#1a1718" stroke-width="0.7"/>
<line x1="642" y1="647.32" x2="642" y2="649.44" stroke="#1a1718" stroke-width="1.1"/>
<line x1="638.6" y1="647.32" x2="645.4" y2="647.32" stroke="#1a1718" stroke-width="1.1"/>
<rect x="636.2" y="649.44" width="11.6" height="16.96" fill="#000"/>
<line x1="659.2" y1="617.29" x2="659.2" y2="623.29" stroke="#1a1718" stroke-width="1.1"/>
<line x1="655.8" y1="617.29" x2="662.6" y2="617.29" stroke="#1a1718" stroke-width="1.1"/>
<rect x="653.4" y="623.29" width="11.6" height="43.11" fill="#e6007e" stroke="#1a1718" stroke-width="0.7"/>
<line x1="642" y1="666.4" x2="642" y2="669.8" stroke="#1a1718" stroke-width="1"/>
<text x="642" y="682.4" font-size="10.85" text-anchor="middle" fill="#1a1718" stroke="#1a1718" stroke-width="0.22">PPARα</text>
<text x="514.7" y="605.28" font-size="12.4" text-anchor="middle" font-weight="bold" fill="#111" letter-spacing="0.6">**</text>
<text x="532.2" y="633.3" font-size="11.8" text-anchor="middle" font-style="italic" fill="#111" stroke="#111" stroke-width="0.22">#</text>
<text x="578.5" y="658.28" font-size="12.4" text-anchor="middle" font-weight="bold" fill="#111" letter-spacing="0.6">**</text>
<text x="595.8" y="636.3" font-size="11.8" text-anchor="middle" font-style="italic" fill="#111" stroke="#111" stroke-width="0.22">#</text>
<text x="642.3" y="647.48" font-size="12.4" text-anchor="middle" font-weight="bold" fill="#111" letter-spacing="0.6">**</text>
<text x="660.2" y="614.5" font-size="11.8" text-anchor="middle" font-style="italic" fill="#111" stroke="#111" stroke-width="0.22">#</text>
<rect x="503.6" y="558" width="10.4" height="4.8" fill="#1da1e4"/>
<text x="517" y="563.6" font-size="9.3" fill="#1a1718" stroke="#1a1718" stroke-width="0.22">CTL</text>
<rect x="544.6" y="558" width="10.4" height="4.8" fill="#000"/>
<text x="557.6" y="563.4" font-size="9.3" fill="#1a1718" stroke="#1a1718" stroke-width="0.22">TGF-β1</text>
<rect x="595" y="558" width="10.2" height="4.8" fill="#e6007e"/>
<text x="608" y="563.4" font-size="9.3" fill="#1a1718" stroke="#1a1718" stroke-width="0.22">TGF-β1+irisin</text>
<text x="0.1" y="516.4" font-size="15.2" font-weight="bold" fill="#000">h</text>
<line x1="29.6" y1="587" x2="29.6" y2="668.6" stroke="#1a1718" stroke-width="1"/>
<line x1="26.2" y1="668.1" x2="29.6" y2="668.1" stroke="#1a1718" stroke-width="1"/>
<text x="22.2" y="671.9" font-size="10.6" text-anchor="end" fill="#1a1718" stroke="#1a1718" stroke-width="0.22">0</text>
<line x1="26.2" y1="627.75" x2="29.6" y2="627.75" stroke="#1a1718" stroke-width="1"/>
<text x="22.2" y="631.55" font-size="10.6" text-anchor="end" fill="#1a1718" stroke="#1a1718" stroke-width="0.22">1</text>
<line x1="26.2" y1="587.4" x2="29.6" y2="587.4" stroke="#1a1718" stroke-width="1"/>
<text x="22.2" y="591.2" font-size="10.6" text-anchor="end" fill="#1a1718" stroke="#1a1718" stroke-width="0.22">2</text>
<line x1="27.6" y1="647.92" x2="29.6" y2="647.92" stroke="#1a1718" stroke-width="1"/>
<line x1="27.6" y1="607.58" x2="29.6" y2="607.58" stroke="#1a1718" stroke-width="1"/>
<line x1="29.6" y1="551" x2="29.6" y2="578.9" stroke="#1a1718" stroke-width="1"/>
<line x1="26.2" y1="578.4" x2="29.6" y2="578.4" stroke="#1a1718" stroke-width="1"/>
<text x="22.2" y="582.2" font-size="10.6" text-anchor="end" fill="#1a1718" stroke="#1a1718" stroke-width="0.22">4</text>
<line x1="26.2" y1="560" x2="29.6" y2="560" stroke="#1a1718" stroke-width="1"/>
<text x="22.2" y="563.8" font-size="10.6" text-anchor="end" fill="#1a1718" stroke="#1a1718" stroke-width="0.22">6</text>
<line x1="27.6" y1="569.2" x2="29.6" y2="569.2" stroke="#1a1718" stroke-width="1"/>
<line x1="26.2" y1="551.4" x2="29.6" y2="551.4" stroke="#1a1718" stroke-width="1"/>
<line x1="29.1" y1="668.1" x2="429" y2="668.1" stroke="#1a1718" stroke-width="1"/>
<text x="6.9" y="609.5" font-size="11.05" text-anchor="middle" transform="rotate(-90 6.9 609.5)" fill="#1a1718" stroke="#1a1718" stroke-width="0.22">Relative mRNA expression</text>
<line x1="40.67" y1="625.73" x2="40.67" y2="627.75" stroke="#1a1718" stroke-width="1.1"/>
<line x1="37.27" y1="625.73" x2="44.07" y2="625.73" stroke="#1a1718" stroke-width="1.1"/>
<rect x="34.4" y="627.75" width="12.55" height="40.35" fill="#1da1e4" stroke="#1a1718" stroke-width="0.7"/>
<line x1="53.23" y1="647.52" x2="53.23" y2="650.75" stroke="#1a1718" stroke-width="1.1"/>
<line x1="49.83" y1="647.52" x2="56.62" y2="647.52" stroke="#1a1718" stroke-width="1.1"/>
<rect x="46.95" y="650.75" width="12.55" height="17.35" fill="#000"/>
<line x1="65.78" y1="630.17" x2="65.78" y2="635.01" stroke="#1a1718" stroke-width="1.1"/>
<line x1="62.38" y1="630.17" x2="69.18" y2="630.17" stroke="#1a1718" stroke-width="1.1"/>
<rect x="59.5" y="635.01" width="12.55" height="33.09" fill="#e6007e" stroke="#1a1718" stroke-width="0.7"/>
<text x="53.23" y="681.4" font-size="10.5" text-anchor="middle" fill="#1a1718" stroke="#1a1718" stroke-width="0.22">CPT1</text>
<line x1="90.7" y1="625.73" x2="90.7" y2="627.75" stroke="#1a1718" stroke-width="1.1"/>
<line x1="87.3" y1="625.73" x2="94.1" y2="625.73" stroke="#1a1718" stroke-width="1.1"/>
<rect x="84.42" y="627.75" width="12.55" height="40.35" fill="#1da1e4" stroke="#1a1718" stroke-width="0.7"/>
<line x1="103.25" y1="639.86" x2="103.25" y2="644.7" stroke="#1a1718" stroke-width="1.1"/>
<line x1="99.84" y1="639.86" x2="106.65" y2="639.86" stroke="#1a1718" stroke-width="1.1"/>
<rect x="96.97" y="644.7" width="12.55" height="23.4" fill="#000"/>
<line x1="115.8" y1="634.21" x2="115.8" y2="636.22" stroke="#1a1718" stroke-width="1.1"/>
<line x1="112.4" y1="634.21" x2="119.2" y2="634.21" stroke="#1a1718" stroke-width="1.1"/>
<rect x="109.52" y="636.22" width="12.55" height="31.88" fill="#e6007e" stroke="#1a1718" stroke-width="0.7"/>
<text x="103.25" y="681.4" font-size="10.5" text-anchor="middle" fill="#1a1718" stroke="#1a1718" stroke-width="0.22">CPT2</text>
<line x1="140.72" y1="625.73" x2="140.72" y2="627.75" stroke="#1a1718" stroke-width="1.1"/>
<line x1="137.31" y1="625.73" x2="144.12" y2="625.73" stroke="#1a1718" stroke-width="1.1"/>
<rect x="134.44" y="627.75" width="12.55" height="40.35" fill="#1da1e4" stroke="#1a1718" stroke-width="0.7"/>
<line x1="153.27" y1="640.26" x2="153.27" y2="643.89" stroke="#1a1718" stroke-width="1.1"/>
<line x1="149.87" y1="640.26" x2="156.67" y2="640.26" stroke="#1a1718" stroke-width="1.1"/>
<rect x="146.99" y="643.89" width="12.55" height="24.21" fill="#000"/>
<line x1="165.81" y1="632.19" x2="165.81" y2="634.21" stroke="#1a1718" stroke-width="1.1"/>
<line x1="162.41" y1="632.19" x2="169.22" y2="632.19" stroke="#1a1718" stroke-width="1.1"/>
<rect x="159.54" y="634.21" width="12.55" height="33.89" fill="#e6007e" stroke="#1a1718" stroke-width="0.7"/>
<text x="153.26" y="681.4" font-size="10.5" text-anchor="middle" fill="#1a1718" stroke="#1a1718" stroke-width="0.22">Acox1</text>
<line x1="190.74" y1="623.72" x2="190.74" y2="627.75" stroke="#1a1718" stroke-width="1.1"/>
<line x1="187.34" y1="623.72" x2="194.14" y2="623.72" stroke="#1a1718" stroke-width="1.1"/>
<rect x="184.46" y="627.75" width="12.55" height="40.35" fill="#1da1e4" stroke="#1a1718" stroke-width="0.7"/>
<line x1="203.29" y1="646.31" x2="203.29" y2="650.95" stroke="#1a1718" stroke-width="1.1"/>
<line x1="199.89" y1="646.31" x2="206.69" y2="646.31" stroke="#1a1718" stroke-width="1.1"/>
<rect x="197.01" y="650.95" width="12.55" height="17.15" fill="#000"/>
<line x1="215.84" y1="634.21" x2="215.84" y2="636.43" stroke="#1a1718" stroke-width="1.1"/>
<line x1="212.44" y1="634.21" x2="219.24" y2="634.21" stroke="#1a1718" stroke-width="1.1"/>
<rect x="209.56" y="636.43" width="12.55" height="31.67" fill="#e6007e" stroke="#1a1718" stroke-width="0.7"/>
<text x="203.29" y="681.4" font-size="10.5" text-anchor="middle" fill="#1a1718" stroke="#1a1718" stroke-width="0.22">Acox2</text>
<line x1="240.76" y1="628.96" x2="240.76" y2="630.57" stroke="#1a1718" stroke-width="1.1"/>
<line x1="237.36" y1="628.96" x2="244.16" y2="628.96" stroke="#1a1718" stroke-width="1.1"/>
<rect x="234.48" y="630.57" width="12.55" height="37.53" fill="#1da1e4" stroke="#1a1718" stroke-width="0.7"/>
<line x1="253.31" y1="643.49" x2="253.31" y2="647.32" stroke="#1a1718" stroke-width="1.1"/>
<line x1="249.91" y1="643.49" x2="256.71" y2="643.49" stroke="#1a1718" stroke-width="1.1"/>
<rect x="247.03" y="647.32" width="12.55" height="20.78" fill="#000"/>
<line x1="265.86" y1="635.21" x2="265.86" y2="638.24" stroke="#1a1718" stroke-width="1.1"/>
<line x1="262.46" y1="635.21" x2="269.25" y2="635.21" stroke="#1a1718" stroke-width="1.1"/>
<rect x="259.58" y="638.24" width="12.55" height="29.86" fill="#e6007e" stroke="#1a1718" stroke-width="0.7"/>
<text x="253.31" y="681.4" font-size="10.5" text-anchor="middle" fill="#1a1718" stroke="#1a1718" stroke-width="0.22">HK1</text>
<line x1="290.77" y1="627.75" x2="290.77" y2="630.57" stroke="#1a1718" stroke-width="1.1"/>
<line x1="287.38" y1="627.75" x2="294.17" y2="627.75" stroke="#1a1718" stroke-width="1.1"/>
<rect x="284.5" y="630.57" width="12.55" height="37.53" fill="#1da1e4" stroke="#1a1718" stroke-width="0.7"/>
<line x1="303.32" y1="555.4" x2="303.32" y2="563" stroke="#1a1718" stroke-width="1.1"/>
<line x1="299.93" y1="555.4" x2="306.72" y2="555.4" stroke="#1a1718" stroke-width="1.1"/>
<rect x="297.05" y="563" width="12.55" height="15.2" fill="#000"/>
<rect x="297.05" y="587.4" width="12.55" height="80.7" fill="#000"/>
<line x1="315.88" y1="593.45" x2="315.88" y2="607.58" stroke="#1a1718" stroke-width="1.1"/>
<line x1="312.48" y1="593.45" x2="319.27" y2="593.45" stroke="#1a1718" stroke-width="1.1"/>
<rect x="309.6" y="607.58" width="12.55" height="60.52" fill="#e6007e" stroke="#1a1718" stroke-width="0.7"/>
<text x="303.32" y="681.4" font-size="10.5" text-anchor="middle" fill="#1a1718" stroke="#1a1718" stroke-width="0.22">HK2</text>
<line x1="340.79" y1="626.54" x2="340.79" y2="627.75" stroke="#1a1718" stroke-width="1.1"/>
<line x1="337.39" y1="626.54" x2="344.19" y2="626.54" stroke="#1a1718" stroke-width="1.1"/>
<rect x="334.52" y="627.75" width="12.55" height="40.35" fill="#1da1e4" stroke="#1a1718" stroke-width="0.7"/>
<line x1="353.34" y1="643.28" x2="353.34" y2="643.89" stroke="#1a1718" stroke-width="1.1"/>
<line x1="349.94" y1="643.28" x2="356.74" y2="643.28" stroke="#1a1718" stroke-width="1.1"/>
<rect x="347.07" y="643.89" width="12.55" height="24.21" fill="#000"/>
<line x1="365.89" y1="632.59" x2="365.89" y2="635.01" stroke="#1a1718" stroke-width="1.1"/>
<line x1="362.5" y1="632.59" x2="369.29" y2="632.59" stroke="#1a1718" stroke-width="1.1"/>
<rect x="359.62" y="635.01" width="12.55" height="33.09" fill="#e6007e" stroke="#1a1718" stroke-width="0.7"/>
<text x="353.34" y="681.4" font-size="10.5" text-anchor="middle" fill="#1a1718" stroke="#1a1718" stroke-width="0.22">PK</text>
<line x1="390.81" y1="624.93" x2="390.81" y2="627.75" stroke="#1a1718" stroke-width="1.1"/>
<line x1="387.42" y1="624.93" x2="394.21" y2="624.93" stroke="#1a1718" stroke-width="1.1"/>
<rect x="384.54" y="627.75" width="12.55" height="40.35" fill="#1da1e4" stroke="#1a1718" stroke-width="0.7"/>
<line x1="403.37" y1="648.33" x2="403.37" y2="649.94" stroke="#1a1718" stroke-width="1.1"/>
<line x1="399.97" y1="648.33" x2="406.76" y2="648.33" stroke="#1a1718" stroke-width="1.1"/>
<rect x="397.09" y="649.94" width="12.55" height="18.16" fill="#000"/>
<line x1="415.92" y1="615.64" x2="415.92" y2="623.72" stroke="#1a1718" stroke-width="1.1"/>
<line x1="412.52" y1="615.64" x2="419.31" y2="615.64" stroke="#1a1718" stroke-width="1.1"/>
<rect x="409.64" y="623.72" width="12.55" height="44.38" fill="#e6007e" stroke="#1a1718" stroke-width="0.7"/>
<text x="403.37" y="681.4" font-size="10.5" text-anchor="middle" fill="#1a1718" stroke="#1a1718" stroke-width="0.22">PFK</text>
<text x="53.7" y="648.38" font-size="12.4" text-anchor="middle" font-weight="bold" fill="#111" letter-spacing="0.6">**</text>
<text x="66.8" y="626.5" font-size="11.8" text-anchor="middle" font-style="italic" fill="#111" stroke="#111" stroke-width="0.22">#</text>
<text x="103.7" y="639.28" font-size="12.4" text-anchor="middle" font-weight="bold" fill="#111" letter-spacing="0.6">*</text>
<text x="153.7" y="639.88" font-size="12.4" text-anchor="middle" font-weight="bold" fill="#111" letter-spacing="0.6">*</text>
<text x="203.9" y="647.28" font-size="12.4" text-anchor="middle" font-weight="bold" fill="#111" letter-spacing="0.6">*</text>
<text x="217.2" y="629.9" font-size="11.8" text-anchor="middle" font-style="italic" fill="#111" stroke="#111" stroke-width="0.22">#</text>
<text x="253.9" y="644.28" font-size="12.4" text-anchor="middle" font-weight="bold" fill="#111" letter-spacing="0.6">*</text>
<text x="303.7" y="556.68" font-size="12.4" text-anchor="middle" font-weight="bold" fill="#111" letter-spacing="0.6">**</text>
<text x="316.6" y="590.9" font-size="11.8" text-anchor="middle" font-style="italic" fill="#111" stroke="#111" stroke-width="0.22">#</text>
<text x="353.9" y="642.88" font-size="12.4" text-anchor="middle" font-weight="bold" fill="#111" letter-spacing="0.6">**</text>
<text x="366.6" y="629.9" font-size="11.8" text-anchor="middle" font-style="italic" fill="#111" stroke="#111" stroke-width="0.22">#</text>
<text x="404.3" y="647.88" font-size="12.4" text-anchor="middle" font-weight="bold" fill="#111" letter-spacing="0.6">**</text>
<text x="417.2" y="611.3" font-size="11.8" text-anchor="middle" font-style="italic" fill="#111" stroke="#111" stroke-width="0.22">#</text>
<rect x="91.2" y="522.2" width="16.4" height="9.6" fill="#1da1e4" stroke="#1a1718" stroke-width="0.8"/>
<text x="112.6" y="531.8" font-size="10.9" fill="#1a1718" stroke="#1a1718" stroke-width="0.22">CTL</text>
<rect x="161.2" y="522.2" width="16.4" height="9.6" fill="#000"/>
<text x="182.4" y="531.8" font-size="10.9" fill="#1a1718" stroke="#1a1718" stroke-width="0.22">TGF-β1</text>
<rect x="241" y="522.2" width="16.4" height="9.6" fill="#e6007e" stroke="#1a1718" stroke-width="0.8"/>
<text x="264.2" y="531.8" font-size="10.9" fill="#1a1718" stroke="#1a1718" stroke-width="0.22">TGF-β1+irisin</text>
</svg>
</body>
</html>
